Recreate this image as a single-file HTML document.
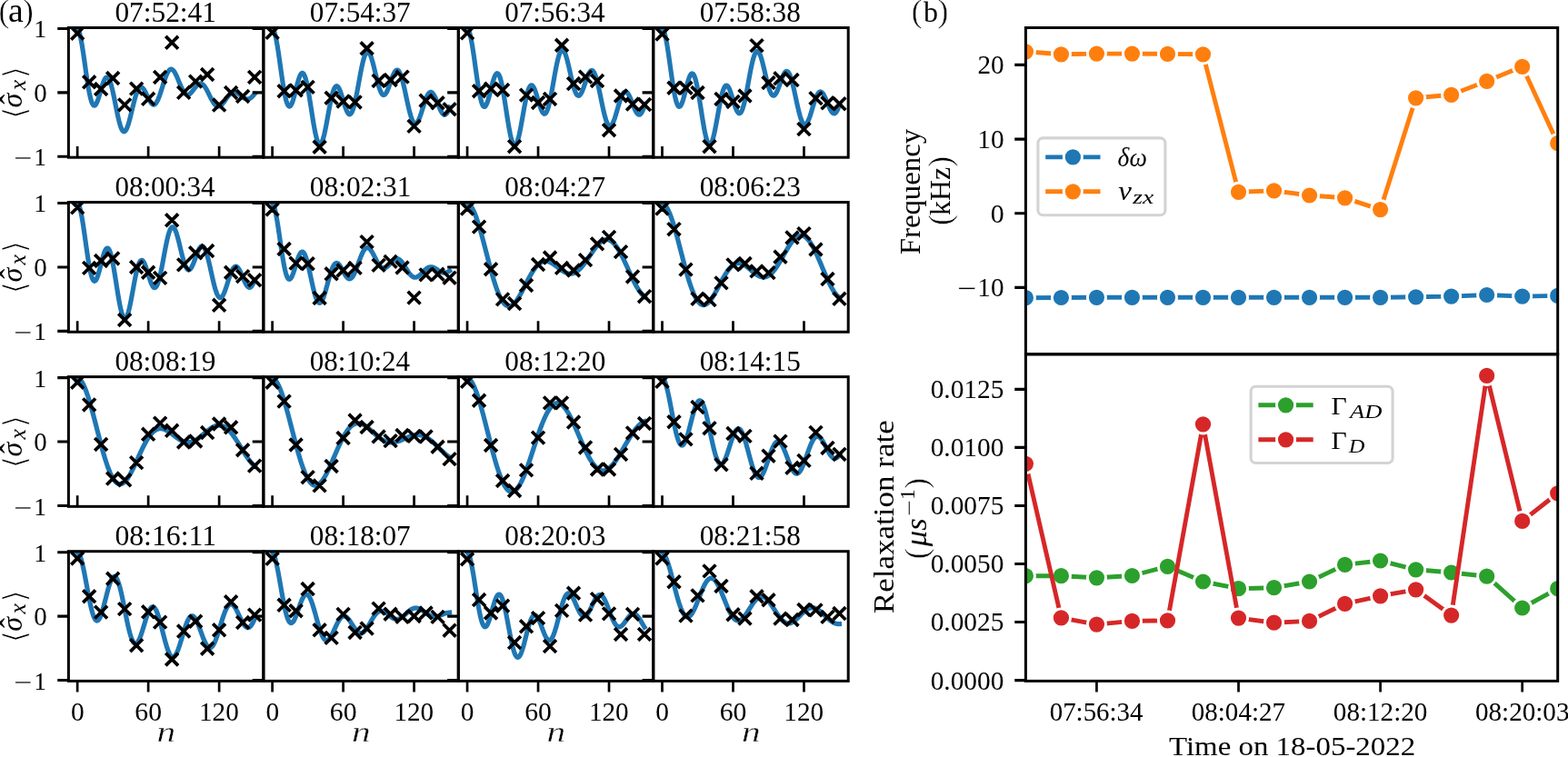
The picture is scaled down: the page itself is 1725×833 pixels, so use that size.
<!DOCTYPE html>
<html lang="en"><head><meta charset="utf-8"><title>Figure</title><style>html,body{margin:0;padding:0;background:#fff}svg{display:block}</style></head><body>
<svg width="1725" height="833" viewBox="0 0 1725 833" font-family="'Liberation Serif', serif" fill="#000">
<rect width="1725" height="833" fill="#fff"/>
<defs>
<clipPath id="c00"><rect x="75.4" y="30.5" width="214.45" height="142.7"/></clipPath>
<clipPath id="c01"><rect x="289.85" y="30.5" width="214.45" height="142.7"/></clipPath>
<clipPath id="c02"><rect x="504.3" y="30.5" width="214.45" height="142.7"/></clipPath>
<clipPath id="c03"><rect x="718.75" y="30.5" width="214.45" height="142.7"/></clipPath>
<clipPath id="c10"><rect x="75.4" y="222.57" width="214.45" height="142.7"/></clipPath>
<clipPath id="c11"><rect x="289.85" y="222.57" width="214.45" height="142.7"/></clipPath>
<clipPath id="c12"><rect x="504.3" y="222.57" width="214.45" height="142.7"/></clipPath>
<clipPath id="c13"><rect x="718.75" y="222.57" width="214.45" height="142.7"/></clipPath>
<clipPath id="c20"><rect x="75.4" y="414.64" width="214.45" height="142.7"/></clipPath>
<clipPath id="c21"><rect x="289.85" y="414.64" width="214.45" height="142.7"/></clipPath>
<clipPath id="c22"><rect x="504.3" y="414.64" width="214.45" height="142.7"/></clipPath>
<clipPath id="c23"><rect x="718.75" y="414.64" width="214.45" height="142.7"/></clipPath>
<clipPath id="c30"><rect x="75.4" y="606.71" width="214.45" height="142.7"/></clipPath>
<clipPath id="c31"><rect x="289.85" y="606.71" width="214.45" height="142.7"/></clipPath>
<clipPath id="c32"><rect x="504.3" y="606.71" width="214.45" height="142.7"/></clipPath>
<clipPath id="c33"><rect x="718.75" y="606.71" width="214.45" height="142.7"/></clipPath>
<clipPath id="ct"><rect x="1128.4" y="30.5" width="585.3" height="359.3"/></clipPath>
<clipPath id="cb"><rect x="1128.4" y="389.8" width="585.3" height="359.6"/></clipPath>
</defs>
<g clip-path="url(#c00)">
<path d="M85.15 31.5L85.97 32.47L86.78 34.26L87.6 36.83L88.41 40.13L89.23 44.07L90.04 48.58L90.86 53.56L91.68 58.9L92.49 64.49L93.31 70.24L94.12 76.01L94.94 81.72L95.75 87.24L96.57 92.48L97.39 97.35L98.2 101.77L99.02 105.68L99.83 109.01L100.65 111.73L101.46 113.81L102.28 115.24L103.1 116.02L103.91 116.18L104.73 115.73L105.54 114.74L106.36 113.26L107.17 111.34L107.99 109.08L108.81 106.55L109.62 103.83L110.44 101.02L111.25 98.21L112.07 95.48L112.88 92.92L113.7 90.61L114.52 88.62L115.33 87.02L116.15 85.85L116.96 85.16L117.78 84.99L118.59 85.34L119.41 86.23L120.23 87.64L121.04 89.57L121.86 91.97L122.67 94.8L123.49 98.02L124.3 101.57L125.12 105.36L125.94 109.35L126.75 113.43L127.57 117.55L128.38 121.61L129.2 125.54L130.01 129.27L130.83 132.72L131.65 135.83L132.46 138.55L133.28 140.82L134.09 142.61L134.91 143.89L135.72 144.64L136.54 144.86L137.36 144.55L138.17 143.72L138.99 142.4L139.8 140.63L140.62 138.45L141.43 135.91L142.25 133.06L143.07 129.98L143.88 126.71L144.7 123.35L145.51 119.94L146.33 116.56L147.14 113.28L147.96 110.15L148.78 107.23L149.59 104.58L150.41 102.23L151.22 100.22L152.04 98.57L152.85 97.31L153.67 96.45L154.49 95.97L155.3 95.88L156.12 96.15L156.93 96.76L157.75 97.67L158.56 98.84L159.38 100.23L160.2 101.79L161.01 103.46L161.83 105.2L162.64 106.94L163.46 108.63L164.27 110.21L165.09 111.65L165.91 112.89L166.72 113.9L167.54 114.63L168.35 115.07L169.17 115.19L169.98 114.98L170.8 114.43L171.62 113.55L172.43 112.36L173.25 110.86L174.06 109.08L174.88 107.06L175.69 104.83L176.51 102.42L177.33 99.9L178.14 97.29L178.96 94.66L179.77 92.05L180.59 89.51L181.4 87.08L182.22 84.82L183.04 82.75L183.85 80.92L184.67 79.36L185.48 78.09L186.3 77.13L187.11 76.49L187.93 76.18L188.75 76.2L189.56 76.54L190.38 77.18L191.19 78.11L192.01 79.3L192.82 80.71L193.64 82.32L194.46 84.09L195.27 85.98L196.09 87.94L196.9 89.93L197.72 91.92L198.53 93.85L199.35 95.71L200.17 97.44L200.98 99.02L201.8 100.42L202.61 101.61L203.43 102.59L204.24 103.34L205.06 103.85L205.88 104.12L206.69 104.16L207.51 103.98L208.32 103.59L209.14 103.01L209.95 102.27L210.77 101.4L211.59 100.43L212.4 99.38L213.22 98.29L214.03 97.2L214.85 96.13L215.66 95.13L216.48 94.22L217.3 93.43L218.11 92.79L218.93 92.31L219.74 92.01L220.56 91.92L221.37 92.03L222.19 92.34L223.01 92.87L223.82 93.6L224.64 94.52L225.45 95.62L226.27 96.87L227.08 98.27L227.9 99.77L228.72 101.36L229.53 103L230.35 104.67L231.16 106.34L231.98 107.97L232.79 109.53L233.61 111.01L234.43 112.36L235.24 113.58L236.06 114.63L236.87 115.51L237.69 116.21L238.5 116.7L239.32 116.99L240.14 117.09L240.95 116.98L241.77 116.69L242.58 116.22L243.4 115.58L244.21 114.81L245.03 113.9L245.85 112.9L246.66 111.82L247.48 110.68L248.29 109.52L249.11 108.36L249.92 107.23L250.74 106.14L251.56 105.12L252.37 104.19L253.19 103.36L254 102.66L254.82 102.09L255.63 101.65L256.45 101.36L257.27 101.22L258.08 101.21L258.9 101.34L259.71 101.6L260.53 101.97L261.34 102.45L262.16 103L262.98 103.62L263.79 104.29L264.61 104.98L265.42 105.68L266.24 106.36L267.05 107L267.87 107.59L268.69 108.1L269.5 108.52L270.32 108.84L271.13 109.05L271.95 109.14L272.76 109.09L273.58 108.92L274.4 108.61L275.21 108.18L276.03 107.62L276.84 106.95L277.66 106.18L278.47 105.32L279.29 104.39L280.11 103.4" fill="none" stroke="#1f77b4" stroke-width="5.2" stroke-linejoin="round" stroke-linecap="square"/>
<path d="M78.25 29.81l13.8 13.8m0 -13.8l-13.8 13.8M91.25 83.43l13.8 13.8m0 -13.8l-13.8 13.8M104.24 91.09l13.8 13.8m0 -13.8l-13.8 13.8M117.24 79.08l13.8 13.8m0 -13.8l-13.8 13.8M130.24 108.51l13.8 13.8m0 -13.8l-13.8 13.8M143.23 90.75l13.8 13.8m0 -13.8l-13.8 13.8M156.23 101.89l13.8 13.8m0 -13.8l-13.8 13.8M169.23 78.04l13.8 13.8m0 -13.8l-13.8 13.8M182.23 39.9l13.8 13.8m0 -13.8l-13.8 13.8M195.22 94.93l13.8 13.8m0 -13.8l-13.8 13.8M208.22 82.74l13.8 13.8m0 -13.8l-13.8 13.8M221.22 75.08l13.8 13.8m0 -13.8l-13.8 13.8M234.21 108.68l13.8 13.8m0 -13.8l-13.8 13.8M247.21 95.1l13.8 13.8m0 -13.8l-13.8 13.8M260.21 99.1l13.8 13.8m0 -13.8l-13.8 13.8M273.21 78.04l13.8 13.8m0 -13.8l-13.8 13.8" stroke="#000" stroke-width="3.7" fill="none"/>
</g>
<g clip-path="url(#c01)">
<path d="M299.6 31.5L300.42 32.13L301.23 33.58L302.05 35.82L302.86 38.8L303.68 42.45L304.49 46.71L305.31 51.48L306.13 56.67L306.94 62.18L307.76 67.91L308.57 73.73L309.39 79.53L310.2 85.22L311.02 90.68L311.84 95.82L312.65 100.55L313.47 104.79L314.28 108.47L315.1 111.53L315.91 113.95L316.73 115.69L317.55 116.74L318.36 117.12L319.18 116.84L319.99 115.94L320.81 114.47L321.62 112.49L322.44 110.08L323.26 107.32L324.07 104.3L324.89 101.11L325.7 97.85L326.52 94.63L327.33 91.53L328.15 88.66L328.97 86.1L329.78 83.93L330.6 82.23L331.41 81.05L332.23 80.46L333.04 80.47L333.86 81.12L334.68 82.41L335.49 84.34L336.31 86.88L337.12 90L337.94 93.65L338.75 97.77L339.57 102.3L340.39 107.14L341.2 112.22L342.02 117.44L342.83 122.71L343.65 127.93L344.46 133L345.28 137.83L346.1 142.33L346.91 146.42L347.73 150.02L348.54 153.07L349.36 155.51L350.17 157.32L350.99 158.45L351.81 158.89L352.62 158.65L353.44 157.74L354.25 156.18L355.07 154.02L355.88 151.29L356.7 148.08L357.52 144.44L358.33 140.45L359.15 136.21L359.96 131.79L360.78 127.29L361.59 122.8L362.41 118.41L363.23 114.19L364.04 110.24L364.86 106.63L365.67 103.41L366.49 100.65L367.3 98.38L368.12 96.63L368.94 95.44L369.75 94.79L370.57 94.69L371.38 95.11L372.2 96.03L373.01 97.4L373.83 99.18L374.65 101.29L375.46 103.67L376.28 106.25L377.09 108.95L377.91 111.69L378.72 114.38L379.54 116.95L380.36 119.31L381.17 121.4L381.99 123.15L382.8 124.5L383.62 125.4L384.43 125.82L385.25 125.71L386.07 125.07L386.88 123.89L387.7 122.18L388.51 119.95L389.33 117.24L390.14 114.08L390.96 110.53L391.78 106.64L392.59 102.48L393.41 98.12L394.22 93.65L395.04 89.13L395.85 84.65L396.67 80.28L397.49 76.12L398.3 72.22L399.12 68.66L399.93 65.5L400.75 62.78L401.56 60.56L402.38 58.87L403.2 57.73L404.01 57.15L404.83 57.12L405.64 57.65L406.46 58.71L407.27 60.26L408.09 62.26L408.91 64.67L409.72 67.42L410.54 70.45L411.35 73.69L412.17 77.07L412.98 80.52L413.8 83.96L414.62 87.32L415.43 90.52L416.25 93.51L417.06 96.23L417.88 98.63L418.69 100.65L419.51 102.27L420.33 103.47L421.14 104.22L421.96 104.53L422.77 104.4L423.59 103.84L424.4 102.89L425.22 101.58L426.04 99.95L426.85 98.05L427.67 95.95L428.48 93.69L429.3 91.36L430.11 89.01L430.93 86.7L431.75 84.52L432.56 82.52L433.38 80.75L434.19 79.28L435.01 78.16L435.82 77.41L436.64 77.08L437.46 77.19L438.27 77.74L439.09 78.75L439.9 80.21L440.72 82.11L441.53 84.41L442.35 87.08L443.17 90.08L443.98 93.37L444.8 96.88L445.61 100.56L446.43 104.35L447.24 108.17L448.06 111.97L448.88 115.68L449.69 119.22L450.51 122.55L451.32 125.61L452.14 128.34L452.95 130.71L453.77 132.68L454.59 134.21L455.4 135.3L456.22 135.94L457.03 136.12L457.85 135.85L458.66 135.15L459.48 134.05L460.3 132.58L461.11 130.79L461.93 128.72L462.74 126.43L463.56 123.96L464.37 121.39L465.19 118.77L466.01 116.15L466.82 113.61L467.64 111.19L468.45 108.96L469.27 106.94L470.08 105.2L470.9 103.76L471.72 102.64L472.53 101.88L473.35 101.47L474.16 101.43L474.98 101.75L475.79 102.4L476.61 103.37L477.43 104.64L478.24 106.15L479.06 107.88L479.87 109.76L480.69 111.76L481.5 113.82L482.32 115.88L483.14 117.88L483.95 119.78L484.77 121.52L485.58 123.05L486.4 124.33L487.21 125.31L488.03 125.98L488.85 126.29L489.66 126.23L490.48 125.79L491.29 124.97L492.11 123.78L492.92 122.22L493.74 120.32L494.56 118.1" fill="none" stroke="#1f77b4" stroke-width="5.2" stroke-linejoin="round" stroke-linecap="square"/>
<path d="M292.7 28.94l13.8 13.8m0 -13.8l-13.8 13.8M305.7 93.36l13.8 13.8m0 -13.8l-13.8 13.8M318.69 92.49l13.8 13.8m0 -13.8l-13.8 13.8M331.69 89.01l13.8 13.8m0 -13.8l-13.8 13.8M344.69 154.82l13.8 13.8m0 -13.8l-13.8 13.8M357.69 100.85l13.8 13.8m0 -13.8l-13.8 13.8M370.68 104.68l13.8 13.8m0 -13.8l-13.8 13.8M383.68 105.55l13.8 13.8m0 -13.8l-13.8 13.8M396.68 46.35l13.8 13.8m0 -13.8l-13.8 13.8M409.67 82.04l13.8 13.8m0 -13.8l-13.8 13.8M422.67 81.17l13.8 13.8m0 -13.8l-13.8 13.8M435.67 77.69l13.8 13.8m0 -13.8l-13.8 13.8M448.66 132.01l13.8 13.8m0 -13.8l-13.8 13.8M461.66 103.81l13.8 13.8m0 -13.8l-13.8 13.8M474.66 106.42l13.8 13.8m0 -13.8l-13.8 13.8M487.66 113.38l13.8 13.8m0 -13.8l-13.8 13.8" stroke="#000" stroke-width="3.7" fill="none"/>
</g>
<g clip-path="url(#c02)">
<path d="M514.05 31.5L514.87 32.12L515.68 33.56L516.5 35.79L517.31 38.77L518.13 42.43L518.94 46.7L519.76 51.49L520.58 56.7L521.39 62.24L522.21 67.99L523.02 73.84L523.84 79.68L524.65 85.4L525.47 90.9L526.29 96.07L527.1 100.83L527.92 105.09L528.73 108.79L529.55 111.88L530.36 114.3L531.18 116.05L532 117.11L532.81 117.48L533.63 117.19L534.44 116.28L535.26 114.79L536.07 112.79L536.89 110.36L537.71 107.58L538.52 104.53L539.34 101.32L540.15 98.04L540.97 94.8L541.78 91.7L542.6 88.82L543.42 86.26L544.23 84.1L545.05 82.42L545.86 81.28L546.68 80.72L547.49 80.78L548.31 81.48L549.13 82.84L549.94 84.84L550.76 87.46L551.57 90.66L552.39 94.4L553.2 98.61L554.02 103.23L554.84 108.16L555.65 113.32L556.47 118.62L557.28 123.96L558.1 129.24L558.91 134.36L559.73 139.22L560.55 143.75L561.36 147.84L562.18 151.43L562.99 154.45L563.81 156.86L564.62 158.6L565.44 159.66L566.26 160.01L567.07 159.66L567.89 158.63L568.7 156.94L569.52 154.64L570.33 151.77L571.15 148.41L571.97 144.62L572.78 140.48L573.6 136.09L574.41 131.53L575.23 126.9L576.04 122.28L576.86 117.78L577.68 113.47L578.49 109.44L579.31 105.76L580.12 102.5L580.94 99.7L581.75 97.42L582.57 95.68L583.39 94.51L584.2 93.89L585.02 93.84L585.83 94.32L586.65 95.31L587.46 96.75L588.28 98.6L589.1 100.79L589.91 103.24L590.73 105.89L591.54 108.65L592.36 111.43L593.17 114.16L593.99 116.75L594.81 119.11L595.62 121.19L596.44 122.91L597.25 124.21L598.07 125.04L598.88 125.36L599.7 125.14L600.52 124.38L601.33 123.06L602.15 121.2L602.96 118.81L603.78 115.93L604.59 112.6L605.41 108.87L606.23 104.81L607.04 100.49L607.86 95.99L608.67 91.37L609.49 86.73L610.3 82.15L611.12 77.71L611.94 73.49L612.75 69.56L613.57 66L614.38 62.86L615.2 60.2L616.01 58.06L616.83 56.48L617.65 55.47L618.46 55.04L619.28 55.2L620.09 55.92L620.91 57.18L621.72 58.95L622.54 61.18L623.36 63.82L624.17 66.8L624.99 70.06L625.8 73.52L626.62 77.11L627.43 80.75L628.25 84.36L629.07 87.87L629.88 91.21L630.7 94.3L631.51 97.1L632.33 99.55L633.14 101.61L633.96 103.24L634.78 104.42L635.59 105.13L636.41 105.38L637.22 105.18L638.04 104.53L638.85 103.49L639.67 102.07L640.49 100.34L641.3 98.35L642.12 96.15L642.93 93.81L643.75 91.4L644.56 88.99L645.38 86.65L646.2 84.46L647.01 82.46L647.83 80.73L648.64 79.33L649.46 78.29L650.27 77.66L651.09 77.46L651.91 77.73L652.72 78.47L653.54 79.69L654.35 81.36L655.17 83.48L655.98 86.02L656.8 88.93L657.62 92.17L658.43 95.69L659.25 99.42L660.06 103.31L660.88 107.29L661.69 111.27L662.51 115.21L663.33 119.02L664.14 122.65L664.96 126.02L665.77 129.09L666.59 131.8L667.4 134.11L668.22 135.98L669.04 137.39L669.85 138.33L670.67 138.78L671.48 138.75L672.3 138.25L673.11 137.31L673.93 135.95L674.75 134.22L675.56 132.16L676.38 129.82L677.19 127.26L678.01 124.55L678.82 121.74L679.64 118.9L680.46 116.1L681.27 113.39L682.09 110.83L682.9 108.48L683.72 106.38L684.53 104.58L685.35 103.12L686.17 102.01L686.98 101.27L687.8 100.92L688.61 100.96L689.43 101.36L690.24 102.12L691.06 103.21L691.88 104.59L692.69 106.22L693.51 108.06L694.32 110.05L695.14 112.14L695.95 114.27L696.77 116.38L697.59 118.42L698.4 120.32L699.22 122.03L700.03 123.5L700.85 124.69L701.66 125.56L702.48 126.07L703.3 126.2L704.11 125.94L704.93 125.27L705.74 124.21L706.56 122.74L707.37 120.91L708.19 118.72L709 116.22" fill="none" stroke="#1f77b4" stroke-width="5.2" stroke-linejoin="round" stroke-linecap="square"/>
<path d="M507.15 29.46l13.8 13.8m0 -13.8l-13.8 13.8M520.15 93.36l13.8 13.8m0 -13.8l-13.8 13.8M533.14 90.75l13.8 13.8m0 -13.8l-13.8 13.8M546.14 92.14l13.8 13.8m0 -13.8l-13.8 13.8M559.14 154.3l13.8 13.8m0 -13.8l-13.8 13.8M572.13 97.71l13.8 13.8m0 -13.8l-13.8 13.8M585.13 106.07l13.8 13.8m0 -13.8l-13.8 13.8M598.13 102.06l13.8 13.8m0 -13.8l-13.8 13.8M611.13 42.86l13.8 13.8m0 -13.8l-13.8 13.8M624.12 85.17l13.8 13.8m0 -13.8l-13.8 13.8M637.12 77.69l13.8 13.8m0 -13.8l-13.8 13.8M650.12 82.04l13.8 13.8m0 -13.8l-13.8 13.8M663.11 136.36l13.8 13.8m0 -13.8l-13.8 13.8M676.11 98.58l13.8 13.8m0 -13.8l-13.8 13.8M689.11 107.64l13.8 13.8m0 -13.8l-13.8 13.8M702.11 108.16l13.8 13.8m0 -13.8l-13.8 13.8" stroke="#000" stroke-width="3.7" fill="none"/>
</g>
<g clip-path="url(#c03)">
<path d="M728.5 31.5L729.32 32.13L730.13 33.59L730.95 35.84L731.76 38.83L732.58 42.5L733.39 46.78L734.21 51.57L735.03 56.79L735.84 62.32L736.66 68.07L737.47 73.91L738.29 79.75L739.1 85.45L739.92 90.94L740.74 96.09L741.55 100.83L742.37 105.08L743.18 108.76L744 111.83L744.81 114.24L745.63 115.98L746.45 117.03L747.26 117.39L748.08 117.1L748.89 116.19L749.71 114.71L750.52 112.73L751.34 110.31L752.16 107.54L752.97 104.51L753.79 101.32L754.6 98.07L755.42 94.86L756.23 91.78L757.05 88.93L757.87 86.39L758.68 84.26L759.5 82.6L760.31 81.47L761.13 80.92L761.94 80.98L762.76 81.69L763.58 83.03L764.39 85.02L765.21 87.61L766.02 90.78L766.84 94.48L767.65 98.65L768.47 103.21L769.29 108.09L770.1 113.19L770.92 118.42L771.73 123.69L772.55 128.89L773.36 133.94L774.18 138.73L775 143.19L775.81 147.21L776.63 150.74L777.44 153.71L778.26 156.07L779.07 157.78L779.89 158.8L780.71 159.14L781.52 158.78L782.34 157.75L783.15 156.08L783.97 153.8L784.78 150.96L785.6 147.64L786.42 143.9L787.23 139.83L788.05 135.5L788.86 131.02L789.68 126.46L790.49 121.92L791.31 117.49L792.13 113.26L792.94 109.3L793.76 105.69L794.57 102.49L795.39 99.75L796.2 97.51L797.02 95.81L797.84 94.65L798.65 94.06L799.47 94L800.28 94.48L801.1 95.44L801.91 96.86L802.73 98.67L803.55 100.81L804.36 103.21L805.18 105.8L805.99 108.5L806.81 111.22L807.62 113.88L808.44 116.4L809.26 118.72L810.07 120.74L810.89 122.41L811.7 123.67L812.52 124.48L813.33 124.79L814.15 124.57L814.97 123.82L815.78 122.53L816.6 120.71L817.41 118.38L818.23 115.56L819.04 112.32L819.86 108.69L820.68 104.74L821.49 100.53L822.31 96.15L823.12 91.66L823.94 87.15L824.75 82.7L825.57 78.38L826.39 74.29L827.2 70.48L828.02 67.02L828.83 63.98L829.65 61.41L830.46 59.34L831.28 57.81L832.1 56.84L832.91 56.44L833.73 56.6L834.54 57.31L835.36 58.55L836.17 60.28L836.99 62.45L837.81 65.01L838.62 67.91L839.44 71.07L840.25 74.43L841.07 77.91L841.88 81.43L842.7 84.93L843.52 88.33L844.33 91.56L845.15 94.56L845.96 97.26L846.78 99.63L847.59 101.62L848.41 103.19L849.23 104.33L850.04 105.02L850.86 105.26L851.67 105.06L852.49 104.44L853.3 103.43L854.12 102.07L854.94 100.4L855.75 98.47L856.57 96.36L857.38 94.1L858.2 91.79L859.01 89.47L859.83 87.22L860.65 85.11L861.46 83.2L862.28 81.54L863.09 80.19L863.91 79.2L864.72 78.6L865.54 78.42L866.36 78.68L867.17 79.4L867.99 80.57L868.8 82.18L869.62 84.22L870.43 86.66L871.25 89.46L872.07 92.57L872.88 95.94L873.7 99.53L874.51 103.25L875.33 107.06L876.14 110.88L876.96 114.65L877.78 118.3L878.59 121.76L879.41 124.99L880.22 127.92L881.04 130.51L881.85 132.71L882.67 134.49L883.49 135.83L884.3 136.72L885.12 137.14L885.93 137.1L886.75 136.62L887.56 135.71L888.38 134.4L889.2 132.74L890.01 130.77L890.83 128.53L891.64 126.09L892.46 123.5L893.27 120.82L894.09 118.11L894.91 115.43L895.72 112.84L896.54 110.4L897.35 108.16L898.17 106.17L898.98 104.46L899.8 103.06L900.62 102L901.43 101.3L902.25 100.97L903.06 101L903.88 101.39L904.69 102.11L905.51 103.14L906.33 104.45L907.14 106L907.96 107.75L908.77 109.64L909.59 111.62L910.4 113.63L911.22 115.63L912.04 117.56L912.85 119.36L913.67 120.98L914.48 122.37L915.3 123.49L916.11 124.3L916.93 124.78L917.75 124.9L918.56 124.65L919.38 124.01L920.19 123L921.01 121.61L921.82 119.87L922.64 117.8L923.45 115.43" fill="none" stroke="#1f77b4" stroke-width="5.2" stroke-linejoin="round" stroke-linecap="square"/>
<path d="M721.6 30.68l13.8 13.8m0 -13.8l-13.8 13.8M734.6 89.88l13.8 13.8m0 -13.8l-13.8 13.8M747.59 89.88l13.8 13.8m0 -13.8l-13.8 13.8M760.59 95.1l13.8 13.8m0 -13.8l-13.8 13.8M773.59 154.3l13.8 13.8m0 -13.8l-13.8 13.8M786.58 102.06l13.8 13.8m0 -13.8l-13.8 13.8M799.58 105.02l13.8 13.8m0 -13.8l-13.8 13.8M812.58 98.58l13.8 13.8m0 -13.8l-13.8 13.8M825.58 43.21l13.8 13.8m0 -13.8l-13.8 13.8M838.57 84.13l13.8 13.8m0 -13.8l-13.8 13.8M851.57 79.43l13.8 13.8m0 -13.8l-13.8 13.8M864.57 81.17l13.8 13.8m0 -13.8l-13.8 13.8M877.56 135.15l13.8 13.8m0 -13.8l-13.8 13.8M890.56 101.19l13.8 13.8m0 -13.8l-13.8 13.8M903.56 106.42l13.8 13.8m0 -13.8l-13.8 13.8M916.55 107.29l13.8 13.8m0 -13.8l-13.8 13.8" stroke="#000" stroke-width="3.7" fill="none"/>
</g>
<g clip-path="url(#c10)">
<path d="M85.15 223.57L85.97 224.22L86.78 225.68L87.6 227.94L88.41 230.93L89.23 234.6L90.04 238.87L90.86 243.66L91.68 248.87L92.49 254.39L93.31 260.12L94.12 265.95L94.94 271.76L95.75 277.46L96.57 282.92L97.39 288.06L98.2 292.79L99.02 297.02L99.83 300.69L100.65 303.75L101.46 306.16L102.28 307.9L103.1 308.95L103.91 309.32L104.73 309.04L105.54 308.14L106.36 306.68L107.17 304.71L107.99 302.31L108.81 299.57L109.62 296.56L110.44 293.4L111.25 290.17L112.07 286.97L112.88 283.9L113.7 281.06L114.52 278.53L115.33 276.4L116.15 274.73L116.96 273.59L117.78 273.02L118.59 273.06L119.41 273.73L120.23 275.04L121.04 276.98L121.86 279.52L122.67 282.64L123.49 286.28L124.3 290.38L125.12 294.88L125.94 299.69L126.75 304.73L127.57 309.9L128.38 315.11L129.2 320.26L130.01 325.27L130.83 330.02L131.65 334.44L132.46 338.45L133.28 341.97L134.09 344.94L134.91 347.31L135.72 349.03L136.54 350.09L137.36 350.47L138.17 350.16L138.99 349.2L139.8 347.59L140.62 345.38L141.43 342.63L142.25 339.39L143.07 335.74L143.88 331.75L144.7 327.51L145.51 323.1L146.33 318.62L147.14 314.16L147.96 309.79L148.78 305.62L149.59 301.7L150.41 298.13L151.22 294.95L152.04 292.22L152.85 289.98L153.67 288.27L154.49 287.1L155.3 286.47L156.12 286.38L156.93 286.81L157.75 287.72L158.56 289.08L159.38 290.83L160.2 292.91L161.01 295.25L161.83 297.78L162.64 300.42L163.46 303.1L164.27 305.72L165.09 308.22L165.91 310.52L166.72 312.54L167.54 314.22L168.35 315.5L169.17 316.34L169.98 316.7L170.8 316.55L171.62 315.87L172.43 314.66L173.25 312.94L174.06 310.71L174.88 308.01L175.69 304.88L176.51 301.37L177.33 297.53L178.14 293.45L178.96 289.17L179.77 284.79L180.59 280.38L181.4 276.01L182.22 271.77L183.04 267.74L183.85 263.97L184.67 260.55L185.48 257.52L186.3 254.94L187.11 252.85L187.93 251.28L188.75 250.25L189.56 249.77L190.38 249.84L191.19 250.46L192.01 251.58L192.82 253.19L193.64 255.24L194.46 257.67L195.27 260.44L196.09 263.47L196.9 266.7L197.72 270.06L198.53 273.48L199.35 276.88L200.17 280.19L200.98 283.35L201.8 286.29L202.61 288.95L203.43 291.3L204.24 293.27L205.06 294.85L205.88 296.01L206.69 296.74L207.51 297.03L208.32 296.89L209.14 296.34L209.95 295.41L210.77 294.13L211.59 292.54L212.4 290.7L213.22 288.67L214.03 286.49L214.85 284.24L215.66 281.99L216.48 279.79L217.3 277.71L218.11 275.81L218.93 274.15L219.74 272.78L220.56 271.75L221.37 271.09L222.19 270.84L223.01 271.02L223.82 271.63L224.64 272.68L225.45 274.16L226.27 276.06L227.08 278.34L227.9 280.98L228.72 283.94L229.53 287.16L230.35 290.59L231.16 294.17L231.98 297.84L232.79 301.53L233.61 305.19L234.43 308.74L235.24 312.13L236.06 315.3L236.87 318.19L237.69 320.77L238.5 322.97L239.32 324.79L240.14 326.18L240.95 327.13L241.77 327.64L242.58 327.71L243.4 327.34L244.21 326.56L245.03 325.4L245.85 323.88L246.66 322.06L247.48 319.97L248.29 317.68L249.11 315.22L249.92 312.68L250.74 310.09L251.56 307.52L252.37 305.03L253.19 302.66L254 300.48L254.82 298.53L255.63 296.83L256.45 295.44L257.27 294.37L258.08 293.63L258.9 293.25L259.71 293.21L260.53 293.52L261.34 294.16L262.16 295.09L262.98 296.31L263.79 297.76L264.61 299.4L265.42 301.2L266.24 303.09L267.05 305.03L267.87 306.97L268.69 308.85L269.5 310.61L270.32 312.22L271.13 313.62L271.95 314.76L272.76 315.63L273.58 316.18L274.4 316.39L275.21 316.24L276.03 315.73L276.84 314.86L277.66 313.63L278.47 312.05L279.29 310.16L280.11 307.97" fill="none" stroke="#1f77b4" stroke-width="5.2" stroke-linejoin="round" stroke-linecap="square"/>
<path d="M78.25 221.46l13.8 13.8m0 -13.8l-13.8 13.8M91.25 287.97l13.8 13.8m0 -13.8l-13.8 13.8M104.24 280.13l13.8 13.8m0 -13.8l-13.8 13.8M117.24 277.52l13.8 13.8m0 -13.8l-13.8 13.8M130.24 345.08l13.8 13.8m0 -13.8l-13.8 13.8M143.23 287.1l13.8 13.8m0 -13.8l-13.8 13.8M156.23 292.85l13.8 13.8m0 -13.8l-13.8 13.8M169.23 298.94l13.8 13.8m0 -13.8l-13.8 13.8M182.23 235.39l13.8 13.8m0 -13.8l-13.8 13.8M195.22 284.49l13.8 13.8m0 -13.8l-13.8 13.8M208.22 271.43l13.8 13.8m0 -13.8l-13.8 13.8M221.22 269.17l13.8 13.8m0 -13.8l-13.8 13.8M234.21 328.89l13.8 13.8m0 -13.8l-13.8 13.8M247.21 292.85l13.8 13.8m0 -13.8l-13.8 13.8M260.21 297.2l13.8 13.8m0 -13.8l-13.8 13.8M273.21 301.38l13.8 13.8m0 -13.8l-13.8 13.8" stroke="#000" stroke-width="3.7" fill="none"/>
</g>
<g clip-path="url(#c11)">
<path d="M299.6 223.57L300.42 224.6L301.23 226.44L302.05 229.03L302.86 232.31L303.68 236.21L304.49 240.65L305.31 245.54L306.13 250.77L306.94 256.25L307.76 261.87L308.57 267.51L309.39 273.09L310.2 278.48L311.02 283.61L311.84 288.39L312.65 292.74L313.47 296.59L314.28 299.9L315.1 302.63L315.91 304.74L316.73 306.23L317.55 307.1L318.36 307.37L319.18 307.07L319.99 306.23L320.81 304.91L321.62 303.17L322.44 301.08L323.26 298.72L324.07 296.16L324.89 293.49L325.7 290.79L326.52 288.15L327.33 285.64L328.15 283.35L328.97 281.33L329.78 279.64L330.6 278.35L331.41 277.5L332.23 277.11L333.04 277.2L333.86 277.79L334.68 278.88L335.49 280.44L336.31 282.46L337.12 284.9L337.94 287.72L338.75 290.86L339.57 294.27L340.39 297.88L341.2 301.63L342.02 305.44L342.83 309.24L343.65 312.97L344.46 316.54L345.28 319.9L346.1 322.99L346.91 325.75L347.73 328.13L348.54 330.1L349.36 331.62L350.17 332.68L350.99 333.25L351.81 333.35L352.62 332.97L353.44 332.14L354.25 330.87L355.07 329.21L355.88 327.2L356.7 324.87L357.52 322.28L358.33 319.5L359.15 316.57L359.96 313.56L360.78 310.53L361.59 307.53L362.41 304.63L363.23 301.87L364.04 299.31L364.86 296.98L365.67 294.93L366.49 293.18L367.3 291.75L368.12 290.67L368.94 289.92L369.75 289.53L370.57 289.46L371.38 289.71L372.2 290.26L373.01 291.07L373.83 292.11L374.65 293.34L375.46 294.72L376.28 296.2L377.09 297.74L377.91 299.28L378.72 300.78L379.54 302.2L380.36 303.49L381.17 304.61L381.99 305.54L382.8 306.23L383.62 306.68L384.43 306.85L385.25 306.74L386.07 306.34L386.88 305.66L387.7 304.7L388.51 303.47L389.33 302L390.14 300.32L390.96 298.44L391.78 296.42L392.59 294.27L393.41 292.04L394.22 289.77L395.04 287.51L395.85 285.29L396.67 283.15L397.49 281.13L398.3 279.26L399.12 277.58L399.93 276.11L400.75 274.88L401.56 273.9L402.38 273.18L403.2 272.74L404.01 272.56L404.83 272.66L405.64 273.02L406.46 273.62L407.27 274.44L408.09 275.47L408.91 276.67L409.72 278.03L410.54 279.49L411.35 281.04L412.17 282.64L412.98 284.26L413.8 285.85L414.62 287.39L415.43 288.86L416.25 290.21L417.06 291.44L417.88 292.51L418.69 293.41L419.51 294.14L420.33 294.67L421.14 295.01L421.96 295.17L422.77 295.13L423.59 294.92L424.4 294.55L425.22 294.03L426.04 293.39L426.85 292.65L427.67 291.82L428.48 290.94L429.3 290.04L430.11 289.14L430.93 288.26L431.75 287.44L432.56 286.69L433.38 286.05L434.19 285.52L435.01 285.12L435.82 284.87L436.64 284.78L437.46 284.86L438.27 285.1L439.09 285.51L439.9 286.07L440.72 286.79L441.53 287.66L442.35 288.65L443.17 289.74L443.98 290.93L444.8 292.19L445.61 293.5L446.43 294.83L447.24 296.16L448.06 297.47L448.88 298.74L449.69 299.93L450.51 301.05L451.32 302.06L452.14 302.95L452.95 303.7L453.77 304.32L454.59 304.79L455.4 305.1L456.22 305.26L457.03 305.27L457.85 305.13L458.66 304.86L459.48 304.45L460.3 303.93L461.11 303.31L461.93 302.61L462.74 301.84L463.56 301.03L464.37 300.19L465.19 299.34L466.01 298.49L466.82 297.68L467.64 296.91L468.45 296.21L469.27 295.57L470.08 295.02L470.9 294.57L471.72 294.21L472.53 293.96L473.35 293.82L474.16 293.79L474.98 293.85L475.79 294.02L476.61 294.28L477.43 294.61L478.24 295.02L479.06 295.48L479.87 295.98L480.69 296.51L481.5 297.05L482.32 297.59L483.14 298.11L483.95 298.6L484.77 299.05L485.58 299.43L486.4 299.75L487.21 299.98L488.03 300.13L488.85 300.19L489.66 300.15L490.48 300.02L491.29 299.79L492.11 299.47L492.92 299.05L493.74 298.56L494.56 297.99" fill="none" stroke="#1f77b4" stroke-width="5.2" stroke-linejoin="round" stroke-linecap="square"/>
<path d="M292.7 223.55l13.8 13.8m0 -13.8l-13.8 13.8M305.7 267.08l13.8 13.8m0 -13.8l-13.8 13.8M318.69 282.75l13.8 13.8m0 -13.8l-13.8 13.8M331.69 283.27l13.8 13.8m0 -13.8l-13.8 13.8M344.69 321.05l13.8 13.8m0 -13.8l-13.8 13.8M357.69 294.41l13.8 13.8m0 -13.8l-13.8 13.8M370.68 290.58l13.8 13.8m0 -13.8l-13.8 13.8M383.68 287.97l13.8 13.8m0 -13.8l-13.8 13.8M396.68 259.24l13.8 13.8m0 -13.8l-13.8 13.8M409.67 285.01l13.8 13.8m0 -13.8l-13.8 13.8M422.67 281.01l13.8 13.8m0 -13.8l-13.8 13.8M435.67 287.62l13.8 13.8m0 -13.8l-13.8 13.8M448.66 320.7l13.8 13.8m0 -13.8l-13.8 13.8M461.66 295.46l13.8 13.8m0 -13.8l-13.8 13.8M474.66 294.93l13.8 13.8m0 -13.8l-13.8 13.8M487.66 298.77l13.8 13.8m0 -13.8l-13.8 13.8" stroke="#000" stroke-width="3.7" fill="none"/>
</g>
<g clip-path="url(#c12)">
<path d="M514.05 223.57L514.87 223.87L515.68 224.37L516.5 225.05L517.31 225.92L518.13 226.97L518.94 228.2L519.76 229.6L520.58 231.17L521.39 232.9L522.21 234.78L523.02 236.81L523.84 238.98L524.65 241.28L525.47 243.71L526.29 246.25L527.1 248.89L527.92 251.63L528.73 254.46L529.55 257.36L530.36 260.33L531.18 263.36L532 266.43L532.81 269.54L533.63 272.67L534.44 275.83L535.26 278.98L536.07 282.14L536.89 285.27L537.71 288.39L538.52 291.47L539.34 294.51L540.15 297.49L540.97 300.42L541.78 303.27L542.6 306.05L543.42 308.75L544.23 311.35L545.05 313.85L545.86 316.24L546.68 318.53L547.49 320.69L548.31 322.74L549.13 324.65L549.94 326.44L550.76 328.09L551.57 329.6L552.39 330.98L553.2 332.21L554.02 333.3L554.84 334.25L555.65 335.05L556.47 335.71L557.28 336.23L558.1 336.6L558.91 336.84L559.73 336.94L560.55 336.91L561.36 336.74L562.18 336.45L562.99 336.04L563.81 335.5L564.62 334.86L565.44 334.1L566.26 333.24L567.07 332.29L567.89 331.24L568.7 330.12L569.52 328.91L570.33 327.63L571.15 326.29L571.97 324.89L572.78 323.44L573.6 321.95L574.41 320.42L575.23 318.86L576.04 317.29L576.86 315.7L577.68 314.1L578.49 312.5L579.31 310.91L580.12 309.33L580.94 307.77L581.75 306.23L582.57 304.73L583.39 303.26L584.2 301.84L585.02 300.46L585.83 299.14L586.65 297.87L587.46 296.66L588.28 295.52L589.1 294.45L589.91 293.44L590.73 292.51L591.54 291.65L592.36 290.87L593.17 290.17L593.99 289.55L594.81 289L595.62 288.54L596.44 288.15L597.25 287.85L598.07 287.62L598.88 287.46L599.7 287.38L600.52 287.38L601.33 287.44L602.15 287.57L602.96 287.76L603.78 288.01L604.59 288.32L605.41 288.68L606.23 289.09L607.04 289.54L607.86 290.04L608.67 290.57L609.49 291.13L610.3 291.71L611.12 292.31L611.94 292.93L612.75 293.56L613.57 294.2L614.38 294.83L615.2 295.46L616.01 296.08L616.83 296.68L617.65 297.27L618.46 297.83L619.28 298.36L620.09 298.85L620.91 299.31L621.72 299.73L622.54 300.11L623.36 300.43L624.17 300.7L624.99 300.92L625.8 301.08L626.62 301.19L627.43 301.23L628.25 301.2L629.07 301.11L629.88 300.96L630.7 300.74L631.51 300.45L632.33 300.1L633.14 299.68L633.96 299.19L634.78 298.64L635.59 298.03L636.41 297.35L637.22 296.61L638.04 295.82L638.85 294.97L639.67 294.07L640.49 293.12L641.3 292.13L642.12 291.09L642.93 290.02L643.75 288.91L644.56 287.77L645.38 286.61L646.2 285.43L647.01 284.23L647.83 283.02L648.64 281.81L649.46 280.59L650.27 279.38L651.09 278.18L651.91 277L652.72 275.84L653.54 274.7L654.35 273.59L655.17 272.52L655.98 271.49L656.8 270.5L657.62 269.56L658.43 268.68L659.25 267.86L660.06 267.1L660.88 266.4L661.69 265.78L662.51 265.23L663.33 264.75L664.14 264.36L664.96 264.05L665.77 263.82L666.59 263.68L667.4 263.63L668.22 263.67L669.04 263.8L669.85 264.02L670.67 264.33L671.48 264.73L672.3 265.23L673.11 265.81L673.93 266.49L674.75 267.25L675.56 268.1L676.38 269.03L677.19 270.04L678.01 271.14L678.82 272.31L679.64 273.55L680.46 274.86L681.27 276.24L682.09 277.68L682.9 279.17L683.72 280.72L684.53 282.32L685.35 283.96L686.17 285.64L686.98 287.35L687.8 289.09L688.61 290.85L689.43 292.62L690.24 294.41L691.06 296.21L691.88 298L692.69 299.79L693.51 301.56L694.32 303.32L695.14 305.05L695.95 306.76L696.77 308.43L697.59 310.07L698.4 311.66L699.22 313.2L700.03 314.69L700.85 316.12L701.66 317.48L702.48 318.78L703.3 320.01L704.11 321.17L704.93 322.24L705.74 323.24L706.56 324.15L707.37 324.97L708.19 325.71L709 326.35" fill="none" stroke="#1f77b4" stroke-width="5.2" stroke-linejoin="round" stroke-linecap="square"/>
<path d="M507.15 222.68l13.8 13.8m0 -13.8l-13.8 13.8M520.15 242.7l13.8 13.8m0 -13.8l-13.8 13.8M533.14 289.36l13.8 13.8m0 -13.8l-13.8 13.8M546.14 322.44l13.8 13.8m0 -13.8l-13.8 13.8M559.14 327.15l13.8 13.8m0 -13.8l-13.8 13.8M572.13 307.12l13.8 13.8m0 -13.8l-13.8 13.8M585.13 284.14l13.8 13.8m0 -13.8l-13.8 13.8M598.13 276.65l13.8 13.8m0 -13.8l-13.8 13.8M611.13 287.97l13.8 13.8m0 -13.8l-13.8 13.8M624.12 290.58l13.8 13.8m0 -13.8l-13.8 13.8M637.12 279.26l13.8 13.8m0 -13.8l-13.8 13.8M650.12 261.5l13.8 13.8m0 -13.8l-13.8 13.8M663.11 254.02l13.8 13.8m0 -13.8l-13.8 13.8M676.11 270.21l13.8 13.8m0 -13.8l-13.8 13.8M689.11 297.55l13.8 13.8m0 -13.8l-13.8 13.8M702.11 319.31l13.8 13.8m0 -13.8l-13.8 13.8" stroke="#000" stroke-width="3.7" fill="none"/>
</g>
<g clip-path="url(#c13)">
<path d="M728.5 223.57L729.32 223.86L730.13 224.35L730.95 225.03L731.76 225.89L732.58 226.94L733.39 228.16L734.21 229.57L735.03 231.14L735.84 232.87L736.66 234.75L737.47 236.79L738.29 238.96L739.1 241.27L739.92 243.7L740.74 246.25L741.55 248.9L742.37 251.65L743.18 254.48L744 257.39L744.81 260.37L745.63 263.4L746.45 266.48L747.26 269.59L748.08 272.73L748.89 275.88L749.71 279.03L750.52 282.18L751.34 285.31L752.16 288.41L752.97 291.48L753.79 294.5L754.6 297.47L755.42 300.37L756.23 303.2L757.05 305.95L757.87 308.61L758.68 311.18L759.5 313.64L760.31 315.99L761.13 318.23L761.94 320.35L762.76 322.34L763.58 324.2L764.39 325.93L765.21 327.52L766.02 328.97L766.84 330.28L767.65 331.45L768.47 332.47L769.29 333.35L770.1 334.08L770.92 334.67L771.73 335.12L772.55 335.42L773.36 335.59L774.18 335.62L775 335.52L775.81 335.29L776.63 334.93L777.44 334.46L778.26 333.87L779.07 333.17L779.89 332.36L780.71 331.46L781.52 330.46L782.34 329.38L783.15 328.23L783.97 327L784.78 325.7L785.6 324.35L786.42 322.95L787.23 321.51L788.05 320.03L788.86 318.52L789.68 316.99L790.49 315.45L791.31 313.91L792.13 312.37L792.94 310.83L793.76 309.31L794.57 307.81L795.39 306.34L796.2 304.91L797.02 303.51L797.84 302.16L798.65 300.86L799.47 299.62L800.28 298.43L801.1 297.31L801.91 296.26L802.73 295.28L803.55 294.37L804.36 293.53L805.18 292.78L805.99 292.11L806.81 291.51L807.62 291L808.44 290.57L809.26 290.22L810.07 289.95L810.89 289.76L811.7 289.65L812.52 289.62L813.33 289.66L814.15 289.78L814.97 289.96L815.78 290.21L816.6 290.52L817.41 290.89L818.23 291.32L819.04 291.79L819.86 292.32L820.68 292.88L821.49 293.48L822.31 294.1L823.12 294.76L823.94 295.43L824.75 296.12L825.57 296.82L826.39 297.52L827.2 298.21L828.02 298.9L828.83 299.58L829.65 300.24L830.46 300.88L831.28 301.48L832.1 302.06L832.91 302.59L833.73 303.08L834.54 303.53L835.36 303.92L836.17 304.26L836.99 304.54L837.81 304.76L838.62 304.91L839.44 304.99L840.25 305.01L841.07 304.95L841.88 304.82L842.7 304.61L843.52 304.33L844.33 303.97L845.15 303.54L845.96 303.03L846.78 302.44L847.59 301.79L848.41 301.05L849.23 300.25L850.04 299.38L850.86 298.45L851.67 297.45L852.49 296.39L853.3 295.27L854.12 294.1L854.94 292.88L855.75 291.62L856.57 290.32L857.38 288.98L858.2 287.61L859.01 286.22L859.83 284.81L860.65 283.38L861.46 281.94L862.28 280.51L863.09 279.07L863.91 277.65L864.72 276.23L865.54 274.84L866.36 273.48L867.17 272.14L867.99 270.85L868.8 269.59L869.62 268.39L870.43 267.24L871.25 266.14L872.07 265.11L872.88 264.15L873.7 263.27L874.51 262.46L875.33 261.73L876.14 261.08L876.96 260.52L877.78 260.06L878.59 259.68L879.41 259.41L880.22 259.23L881.04 259.15L881.85 259.17L882.67 259.29L883.49 259.51L884.3 259.84L885.12 260.27L885.93 260.8L886.75 261.43L887.56 262.16L888.38 262.99L889.2 263.91L890.01 264.92L890.83 266.03L891.64 267.22L892.46 268.5L893.27 269.85L894.09 271.28L894.91 272.78L895.72 274.35L896.54 275.98L897.35 277.66L898.17 279.4L898.98 281.18L899.8 283L900.62 284.86L901.43 286.75L902.25 288.65L903.06 290.58L903.88 292.51L904.69 294.45L905.51 296.39L906.33 298.31L907.14 300.23L907.96 302.12L908.77 303.99L909.59 305.82L910.4 307.62L911.22 309.37L912.04 311.07L912.85 312.73L913.67 314.32L914.48 315.84L915.3 317.3L916.11 318.69L916.93 320L917.75 321.23L918.56 322.37L919.38 323.43L920.19 324.4L921.01 325.28L921.82 326.06L922.64 326.74L923.45 327.33" fill="none" stroke="#1f77b4" stroke-width="5.2" stroke-linejoin="round" stroke-linecap="square"/>
<path d="M721.6 222.68l13.8 13.8m0 -13.8l-13.8 13.8M734.6 245.31l13.8 13.8m0 -13.8l-13.8 13.8M747.59 289.71l13.8 13.8m0 -13.8l-13.8 13.8M760.59 321.92l13.8 13.8m0 -13.8l-13.8 13.8M773.59 323.14l13.8 13.8m0 -13.8l-13.8 13.8M786.58 304.51l13.8 13.8m0 -13.8l-13.8 13.8M799.58 284.49l13.8 13.8m0 -13.8l-13.8 13.8M812.58 283.09l13.8 13.8m0 -13.8l-13.8 13.8M825.58 291.45l13.8 13.8m0 -13.8l-13.8 13.8M838.57 293.19l13.8 13.8m0 -13.8l-13.8 13.8M851.57 275.78l13.8 13.8m0 -13.8l-13.8 13.8M864.57 254.54l13.8 13.8m0 -13.8l-13.8 13.8M877.56 250.19l13.8 13.8m0 -13.8l-13.8 13.8M890.56 267.6l13.8 13.8m0 -13.8l-13.8 13.8M903.56 300.16l13.8 13.8m0 -13.8l-13.8 13.8M916.55 321.92l13.8 13.8m0 -13.8l-13.8 13.8" stroke="#000" stroke-width="3.7" fill="none"/>
</g>
<g clip-path="url(#c20)">
<path d="M85.15 415.64L85.97 415.95L86.78 416.46L87.6 417.14L88.41 418.01L89.23 419.06L90.04 420.28L90.86 421.68L91.68 423.23L92.49 424.95L93.31 426.82L94.12 428.83L94.94 430.98L95.75 433.26L96.57 435.66L97.39 438.18L98.2 440.81L99.02 443.53L99.83 446.34L100.65 449.23L101.46 452.19L102.28 455.21L103.1 458.28L103.91 461.39L104.73 464.53L105.54 467.69L106.36 470.87L107.17 474.05L107.99 477.22L108.81 480.37L109.62 483.5L110.44 486.59L111.25 489.64L112.07 492.63L112.88 495.57L113.7 498.43L114.52 501.22L115.33 503.92L116.15 506.54L116.96 509.05L117.78 511.47L118.59 513.77L119.41 515.95L120.23 518.02L121.04 519.96L121.86 521.78L122.67 523.46L123.49 525L124.3 526.41L125.12 527.68L125.94 528.81L126.75 529.79L127.57 530.64L128.38 531.33L129.2 531.89L130.01 532.3L130.83 532.58L131.65 532.71L132.46 532.71L133.28 532.58L134.09 532.31L134.91 531.92L135.72 531.4L136.54 530.77L137.36 530.01L138.17 529.15L138.99 528.19L139.8 527.12L140.62 525.97L141.43 524.72L142.25 523.39L143.07 521.99L143.88 520.52L144.7 518.98L145.51 517.39L146.33 515.75L147.14 514.07L147.96 512.35L148.78 510.61L149.59 508.84L150.41 507.06L151.22 505.26L152.04 503.47L152.85 501.68L153.67 499.9L154.49 498.14L155.3 496.39L156.12 494.68L156.93 493L157.75 491.36L158.56 489.76L159.38 488.21L160.2 486.72L161.01 485.28L161.83 483.9L162.64 482.58L163.46 481.33L164.27 480.15L165.09 479.05L165.91 478.01L166.72 477.05L167.54 476.17L168.35 475.37L169.17 474.65L169.98 474L170.8 473.44L171.62 472.95L172.43 472.54L173.25 472.21L174.06 471.96L174.88 471.77L175.69 471.66L176.51 471.62L177.33 471.65L178.14 471.74L178.96 471.9L179.77 472.11L180.59 472.38L181.4 472.7L182.22 473.07L183.04 473.48L183.85 473.93L184.67 474.42L185.48 474.94L186.3 475.49L187.11 476.06L187.93 476.65L188.75 477.25L189.56 477.87L190.38 478.49L191.19 479.11L192.01 479.73L192.82 480.35L193.64 480.95L194.46 481.55L195.27 482.12L196.09 482.67L196.9 483.19L197.72 483.69L198.53 484.16L199.35 484.59L200.17 484.99L200.98 485.35L201.8 485.66L202.61 485.94L203.43 486.16L204.24 486.35L205.06 486.48L205.88 486.57L206.69 486.61L207.51 486.6L208.32 486.54L209.14 486.43L209.95 486.27L210.77 486.07L211.59 485.81L212.4 485.52L213.22 485.17L214.03 484.79L214.85 484.37L215.66 483.9L216.48 483.41L217.3 482.88L218.11 482.31L218.93 481.72L219.74 481.11L220.56 480.47L221.37 479.82L222.19 479.15L223.01 478.47L223.82 477.78L224.64 477.09L225.45 476.4L226.27 475.71L227.08 475.03L227.9 474.37L228.72 473.71L229.53 473.08L230.35 472.47L231.16 471.88L231.98 471.33L232.79 470.8L233.61 470.32L234.43 469.87L235.24 469.47L236.06 469.11L236.87 468.8L237.69 468.54L238.5 468.33L239.32 468.18L240.14 468.09L240.95 468.06L241.77 468.08L242.58 468.17L243.4 468.32L244.21 468.54L245.03 468.82L245.85 469.16L246.66 469.57L247.48 470.04L248.29 470.57L249.11 471.17L249.92 471.83L250.74 472.54L251.56 473.32L252.37 474.16L253.19 475.05L254 475.99L254.82 476.98L255.63 478.02L256.45 479.1L257.27 480.23L258.08 481.39L258.9 482.59L259.71 483.82L260.53 485.08L261.34 486.36L262.16 487.66L262.98 488.97L263.79 490.3L264.61 491.64L265.42 492.97L266.24 494.31L267.05 495.64L267.87 496.95L268.69 498.26L269.5 499.54L270.32 500.8L271.13 502.04L271.95 503.24L272.76 504.4L273.58 505.53L274.4 506.61L275.21 507.64L276.03 508.62L276.84 509.55L277.66 510.42L278.47 511.23L279.29 511.97L280.11 512.65" fill="none" stroke="#1f77b4" stroke-width="5.2" stroke-linejoin="round" stroke-linecap="square"/>
<path d="M78.25 413.81l13.8 13.8m0 -13.8l-13.8 13.8M91.25 438.53l13.8 13.8m0 -13.8l-13.8 13.8M104.24 482.06l13.8 13.8m0 -13.8l-13.8 13.8M117.24 519.67l13.8 13.8m0 -13.8l-13.8 13.8M130.24 521.41l13.8 13.8m0 -13.8l-13.8 13.8M143.23 502.26l13.8 13.8m0 -13.8l-13.8 13.8M156.23 470.92l13.8 13.8m0 -13.8l-13.8 13.8M169.23 458.73l13.8 13.8m0 -13.8l-13.8 13.8M182.23 466.91l13.8 13.8m0 -13.8l-13.8 13.8M195.22 479.62l13.8 13.8m0 -13.8l-13.8 13.8M208.22 478.58l13.8 13.8m0 -13.8l-13.8 13.8M221.22 469.17l13.8 13.8m0 -13.8l-13.8 13.8M234.21 459.6l13.8 13.8m0 -13.8l-13.8 13.8M247.21 463.43l13.8 13.8m0 -13.8l-13.8 13.8M260.21 488.33l13.8 13.8m0 -13.8l-13.8 13.8M273.21 505.74l13.8 13.8m0 -13.8l-13.8 13.8" stroke="#000" stroke-width="3.7" fill="none"/>
</g>
<g clip-path="url(#c21)">
<path d="M299.6 415.64L300.42 415.99L301.23 416.52L302.05 417.23L302.86 418.13L303.68 419.19L304.49 420.44L305.31 421.84L306.13 423.41L306.94 425.13L307.76 427.01L308.57 429.02L309.39 431.17L310.2 433.45L311.02 435.85L311.84 438.36L312.65 440.97L313.47 443.68L314.28 446.48L315.1 449.35L315.91 452.3L316.73 455.3L317.55 458.36L318.36 461.45L319.18 464.58L319.99 467.73L320.81 470.89L321.62 474.06L322.44 477.22L323.26 480.37L324.07 483.5L324.89 486.59L325.7 489.64L326.52 492.64L327.33 495.59L328.15 498.47L328.97 501.28L329.78 504.01L330.6 506.65L331.41 509.2L332.23 511.65L333.04 514L333.86 516.23L334.68 518.35L335.49 520.35L336.31 522.23L337.12 523.97L337.94 525.59L338.75 527.07L339.57 528.42L340.39 529.62L341.2 530.69L342.02 531.62L342.83 532.4L343.65 533.04L344.46 533.55L345.28 533.91L346.1 534.13L346.91 534.22L347.73 534.17L348.54 533.99L349.36 533.68L350.17 533.24L350.99 532.68L351.81 532L352.62 531.2L353.44 530.3L354.25 529.28L355.07 528.17L355.88 526.96L356.7 525.67L357.52 524.28L358.33 522.82L359.15 521.29L359.96 519.69L360.78 518.03L361.59 516.32L362.41 514.56L363.23 512.76L364.04 510.93L364.86 509.07L365.67 507.18L366.49 505.29L367.3 503.38L368.12 501.47L368.94 499.57L369.75 497.67L370.57 495.79L371.38 493.94L372.2 492.11L373.01 490.31L373.83 488.55L374.65 486.83L375.46 485.15L376.28 483.53L377.09 481.96L377.91 480.45L378.72 479L379.54 477.62L380.36 476.31L381.17 475.07L381.99 473.9L382.8 472.8L383.62 471.79L384.43 470.85L385.25 469.98L386.07 469.2L386.88 468.5L387.7 467.88L388.51 467.34L389.33 466.88L390.14 466.5L390.96 466.2L391.78 465.97L392.59 465.82L393.41 465.74L394.22 465.73L395.04 465.79L395.85 465.92L396.67 466.11L397.49 466.36L398.3 466.67L399.12 467.03L399.93 467.44L400.75 467.91L401.56 468.41L402.38 468.96L403.2 469.54L404.01 470.16L404.83 470.8L405.64 471.47L406.46 472.16L407.27 472.87L408.09 473.59L408.91 474.32L409.72 475.06L410.54 475.8L411.35 476.54L412.17 477.27L412.98 477.99L413.8 478.71L414.62 479.41L415.43 480.09L416.25 480.75L417.06 481.38L417.88 481.99L418.69 482.58L419.51 483.13L420.33 483.65L421.14 484.14L421.96 484.59L422.77 485L423.59 485.38L424.4 485.71L425.22 486.01L426.04 486.27L426.85 486.48L427.67 486.66L428.48 486.8L429.3 486.89L430.11 486.95L430.93 486.97L431.75 486.95L432.56 486.89L433.38 486.8L434.19 486.67L435.01 486.51L435.82 486.33L436.64 486.11L437.46 485.87L438.27 485.6L439.09 485.31L439.9 485L440.72 484.67L441.53 484.33L442.35 483.98L443.17 483.62L443.98 483.25L444.8 482.88L445.61 482.51L446.43 482.14L447.24 481.77L448.06 481.41L448.88 481.06L449.69 480.72L450.51 480.4L451.32 480.1L452.14 479.81L452.95 479.55L453.77 479.31L454.59 479.1L455.4 478.92L456.22 478.77L457.03 478.65L457.85 478.56L458.66 478.51L459.48 478.5L460.3 478.52L461.11 478.58L461.93 478.68L462.74 478.82L463.56 479L464.37 479.22L465.19 479.48L466.01 479.78L466.82 480.12L467.64 480.5L468.45 480.92L469.27 481.38L470.08 481.87L470.9 482.4L471.72 482.96L472.53 483.55L473.35 484.18L474.16 484.83L474.98 485.51L475.79 486.22L476.61 486.94L477.43 487.69L478.24 488.45L479.06 489.23L479.87 490.02L480.69 490.82L481.5 491.63L482.32 492.44L483.14 493.25L483.95 494.06L484.77 494.87L485.58 495.66L486.4 496.45L487.21 497.22L488.03 497.97L488.85 498.7L489.66 499.41L490.48 500.1L491.29 500.75L492.11 501.38L492.92 501.97L493.74 502.52L494.56 503.04" fill="none" stroke="#1f77b4" stroke-width="5.2" stroke-linejoin="round" stroke-linecap="square"/>
<path d="M292.7 413.81l13.8 13.8m0 -13.8l-13.8 13.8M305.7 434.7l13.8 13.8m0 -13.8l-13.8 13.8M318.69 482.58l13.8 13.8m0 -13.8l-13.8 13.8M331.69 518.28l13.8 13.8m0 -13.8l-13.8 13.8M344.69 527.5l13.8 13.8m0 -13.8l-13.8 13.8M357.69 506.09l13.8 13.8m0 -13.8l-13.8 13.8M370.68 475.09l13.8 13.8m0 -13.8l-13.8 13.8M383.68 455.59l13.8 13.8m0 -13.8l-13.8 13.8M396.68 463.08l13.8 13.8m0 -13.8l-13.8 13.8M409.67 473.53l13.8 13.8m0 -13.8l-13.8 13.8M422.67 478.23l13.8 13.8m0 -13.8l-13.8 13.8M435.67 472.13l13.8 13.8m0 -13.8l-13.8 13.8M448.66 473.01l13.8 13.8m0 -13.8l-13.8 13.8M461.66 473.53l13.8 13.8m0 -13.8l-13.8 13.8M474.66 484.85l13.8 13.8m0 -13.8l-13.8 13.8M487.66 498.25l13.8 13.8m0 -13.8l-13.8 13.8" stroke="#000" stroke-width="3.7" fill="none"/>
</g>
<g clip-path="url(#c22)">
<path d="M514.05 415.64L514.87 416L515.68 416.54L516.5 417.25L517.31 418.15L518.13 419.21L518.94 420.43L519.76 421.82L520.58 423.36L521.39 425.06L522.21 426.9L523.02 428.88L523.84 431L524.65 433.24L525.47 435.61L526.29 438.08L527.1 440.67L527.92 443.35L528.73 446.12L529.55 448.97L530.36 451.9L531.18 454.89L532 457.94L532.81 461.04L533.63 464.19L534.44 467.36L535.26 470.56L536.07 473.77L536.89 476.99L537.71 480.21L538.52 483.42L539.34 486.61L540.15 489.77L540.97 492.9L541.78 495.98L542.6 499.02L543.42 501.99L544.23 504.9L545.05 507.74L545.86 510.5L546.68 513.17L547.49 515.76L548.31 518.24L549.13 520.62L549.94 522.89L550.76 525.04L551.57 527.08L552.39 528.99L553.2 530.78L554.02 532.43L554.84 533.95L555.65 535.33L556.47 536.58L557.28 537.68L558.1 538.63L558.91 539.45L559.73 540.11L560.55 540.63L561.36 541L562.18 541.23L562.99 541.31L563.81 541.25L564.62 541.04L565.44 540.69L566.26 540.2L567.07 539.58L567.89 538.82L568.7 537.92L569.52 536.9L570.33 535.76L571.15 534.5L571.97 533.11L572.78 531.62L573.6 530.03L574.41 528.33L575.23 526.53L576.04 524.64L576.86 522.67L577.68 520.62L578.49 518.5L579.31 516.31L580.12 514.06L580.94 511.76L581.75 509.41L582.57 507.01L583.39 504.59L584.2 502.13L585.02 499.65L585.83 497.16L586.65 494.67L587.46 492.17L588.28 489.67L589.1 487.19L589.91 484.73L590.73 482.29L591.54 479.88L592.36 477.51L593.17 475.18L593.99 472.9L594.81 470.67L595.62 468.5L596.44 466.4L597.25 464.37L598.07 462.41L598.88 460.53L599.7 458.73L600.52 457.02L601.33 455.4L602.15 453.87L602.96 452.44L603.78 451.12L604.59 449.89L605.41 448.77L606.23 447.76L607.04 446.85L607.86 446.06L608.67 445.38L609.49 444.81L610.3 444.35L611.12 444L611.94 443.77L612.75 443.65L613.57 443.64L614.38 443.75L615.2 443.96L616.01 444.28L616.83 444.71L617.65 445.24L618.46 445.87L619.28 446.6L620.09 447.43L620.91 448.35L621.72 449.36L622.54 450.46L623.36 451.64L624.17 452.9L624.99 454.23L625.8 455.64L626.62 457.11L627.43 458.65L628.25 460.24L629.07 461.89L629.88 463.58L630.7 465.32L631.51 467.09L632.33 468.9L633.14 470.74L633.96 472.6L634.78 474.47L635.59 476.37L636.41 478.26L637.22 480.16L638.04 482.06L638.85 483.96L639.67 485.84L640.49 487.7L641.3 489.54L642.12 491.35L642.93 493.14L643.75 494.89L644.56 496.6L645.38 498.26L646.2 499.88L647.01 501.45L647.83 502.96L648.64 504.42L649.46 505.81L650.27 507.14L651.09 508.4L651.91 509.59L652.72 510.7L653.54 511.74L654.35 512.71L655.17 513.59L655.98 514.4L656.8 515.12L657.62 515.76L658.43 516.32L659.25 516.79L660.06 517.18L660.88 517.48L661.69 517.7L662.51 517.84L663.33 517.88L664.14 517.85L664.96 517.73L665.77 517.53L666.59 517.25L667.4 516.89L668.22 516.45L669.04 515.94L669.85 515.36L670.67 514.7L671.48 513.98L672.3 513.19L673.11 512.33L673.93 511.42L674.75 510.45L675.56 509.42L676.38 508.35L677.19 507.22L678.01 506.05L678.82 504.84L679.64 503.6L680.46 502.32L681.27 501.01L682.09 499.67L682.9 498.31L683.72 496.93L684.53 495.54L685.35 494.14L686.17 492.73L686.98 491.31L687.8 489.9L688.61 488.49L689.43 487.09L690.24 485.7L691.06 484.32L691.88 482.96L692.69 481.63L693.51 480.32L694.32 479.04L695.14 477.78L695.95 476.57L696.77 475.39L697.59 474.25L698.4 473.15L699.22 472.1L700.03 471.09L700.85 470.14L701.66 469.23L702.48 468.38L703.3 467.58L704.11 466.84L704.93 466.16L705.74 465.54L706.56 464.98L707.37 464.47L708.19 464.03L709 463.65" fill="none" stroke="#1f77b4" stroke-width="5.2" stroke-linejoin="round" stroke-linecap="square"/>
<path d="M507.15 412.94l13.8 13.8m0 -13.8l-13.8 13.8M520.15 433.83l13.8 13.8m0 -13.8l-13.8 13.8M533.14 483.1l13.8 13.8m0 -13.8l-13.8 13.8M546.14 522.11l13.8 13.8m0 -13.8l-13.8 13.8M559.14 533.08l13.8 13.8m0 -13.8l-13.8 13.8M572.13 510.44l13.8 13.8m0 -13.8l-13.8 13.8M585.13 474.75l13.8 13.8m0 -13.8l-13.8 13.8M598.13 436.44l13.8 13.8m0 -13.8l-13.8 13.8M611.13 436.44l13.8 13.8m0 -13.8l-13.8 13.8M624.12 457.68l13.8 13.8m0 -13.8l-13.8 13.8M637.12 485.54l13.8 13.8m0 -13.8l-13.8 13.8M650.12 509.57l13.8 13.8m0 -13.8l-13.8 13.8M663.11 509.57l13.8 13.8m0 -13.8l-13.8 13.8M676.11 493.03l13.8 13.8m0 -13.8l-13.8 13.8M689.11 469.52l13.8 13.8m0 -13.8l-13.8 13.8M702.11 459.08l13.8 13.8m0 -13.8l-13.8 13.8" stroke="#000" stroke-width="3.7" fill="none"/>
</g>
<g clip-path="url(#c23)">
<path d="M728.5 415.64L729.32 416.16L730.13 417.19L730.95 418.72L731.76 420.72L732.58 423.16L733.39 426.02L734.21 429.24L735.03 432.78L735.84 436.59L736.66 440.61L737.47 444.8L738.29 449.08L739.1 453.41L739.92 457.71L740.74 461.95L741.55 466.05L742.37 469.96L743.18 473.64L744 477.03L744.81 480.09L745.63 482.8L746.45 485.1L747.26 486.98L748.08 488.43L748.89 489.42L749.71 489.95L750.52 490.03L751.34 489.66L752.16 488.85L752.97 487.63L753.79 486.02L754.6 484.06L755.42 481.78L756.23 479.22L757.05 476.43L757.87 473.46L758.68 470.35L759.5 467.17L760.31 463.96L761.13 460.78L761.94 457.68L762.76 454.72L763.58 451.93L764.39 449.37L765.21 447.08L766.02 445.09L766.84 443.45L767.65 442.18L768.47 441.3L769.29 440.83L770.1 440.78L770.92 441.16L771.73 441.96L772.55 443.18L773.36 444.81L774.18 446.82L775 449.19L775.81 451.9L776.63 454.9L777.44 458.16L778.26 461.64L779.07 465.3L779.89 469.08L780.71 472.94L781.52 476.83L782.34 480.7L783.15 484.51L783.97 488.2L784.78 491.73L785.6 495.06L786.42 498.15L787.23 500.97L788.05 503.47L788.86 505.64L789.68 507.46L790.49 508.9L791.31 509.96L792.13 510.63L792.94 510.92L793.76 510.82L794.57 510.35L795.39 509.53L796.2 508.37L797.02 506.91L797.84 505.17L798.65 503.2L799.47 501.01L800.28 498.66L801.1 496.19L801.91 493.64L802.73 491.06L803.55 488.48L804.36 485.96L805.18 483.53L805.99 481.24L806.81 479.13L807.62 477.22L808.44 475.56L809.26 474.16L810.07 473.07L810.89 472.28L811.7 471.83L812.52 471.71L813.33 471.94L814.15 472.52L814.97 473.43L815.78 474.67L816.6 476.22L817.41 478.06L818.23 480.18L819.04 482.53L819.86 485.1L820.68 487.84L821.49 490.72L822.31 493.71L823.12 496.75L823.94 499.82L824.75 502.87L825.57 505.86L826.39 508.76L827.2 511.52L828.02 514.11L828.83 516.49L829.65 518.65L830.46 520.54L831.28 522.16L832.1 523.47L832.91 524.47L833.73 525.15L834.54 525.51L835.36 525.53L836.17 525.24L836.99 524.63L837.81 523.72L838.62 522.53L839.44 521.08L840.25 519.4L841.07 517.5L841.88 515.43L842.7 513.22L843.52 510.89L844.33 508.5L845.15 506.06L845.96 503.63L846.78 501.23L847.59 498.91L848.41 496.69L849.23 494.61L850.04 492.69L850.86 490.98L851.67 489.48L852.49 488.22L853.3 487.21L854.12 486.48L854.94 486.02L855.75 485.85L856.57 485.96L857.38 486.34L858.2 487L859.01 487.92L859.83 489.08L860.65 490.46L861.46 492.04L862.28 493.8L863.09 495.71L863.91 497.73L864.72 499.85L865.54 502.01L866.36 504.2L867.17 506.38L867.99 508.51L868.8 510.57L869.62 512.51L870.43 514.32L871.25 515.96L872.07 517.42L872.88 518.66L873.7 519.67L874.51 520.44L875.33 520.96L876.14 521.2L876.96 521.18L877.78 520.89L878.59 520.34L879.41 519.52L880.22 518.46L881.04 517.17L881.85 515.66L882.67 513.96L883.49 512.08L884.3 510.06L885.12 507.91L885.93 505.68L886.75 503.39L887.56 501.06L888.38 498.74L889.2 496.44L890.01 494.21L890.83 492.06L891.64 490.03L892.46 488.14L893.27 486.41L894.09 484.87L894.91 483.52L895.72 482.39L896.54 481.48L897.35 480.81L898.17 480.37L898.98 480.18L899.8 480.21L900.62 480.48L901.43 480.97L902.25 481.66L903.06 482.54L903.88 483.6L904.69 484.81L905.51 486.14L906.33 487.59L907.14 489.11L907.96 490.68L908.77 492.28L909.59 493.88L910.4 495.45L911.22 496.96L912.04 498.39L912.85 499.71L913.67 500.91L914.48 501.95L915.3 502.83L916.11 503.52L916.93 504.02L917.75 504.31L918.56 504.39L919.38 504.25L920.19 503.89L921.01 503.32L921.82 502.54L922.64 501.55L923.45 500.38" fill="none" stroke="#1f77b4" stroke-width="5.2" stroke-linejoin="round" stroke-linecap="square"/>
<path d="M721.6 412.94l13.8 13.8m0 -13.8l-13.8 13.8M734.6 457.33l13.8 13.8m0 -13.8l-13.8 13.8M747.59 476.49l13.8 13.8m0 -13.8l-13.8 13.8M760.59 441.14l13.8 13.8m0 -13.8l-13.8 13.8M773.59 464.3l13.8 13.8m0 -13.8l-13.8 13.8M786.58 504.35l13.8 13.8m0 -13.8l-13.8 13.8M799.58 470.05l13.8 13.8m0 -13.8l-13.8 13.8M812.58 473.01l13.8 13.8m0 -13.8l-13.8 13.8M825.58 513.92l13.8 13.8m0 -13.8l-13.8 13.8M838.57 494.77l13.8 13.8m0 -13.8l-13.8 13.8M851.57 478.75l13.8 13.8m0 -13.8l-13.8 13.8M864.57 507.83l13.8 13.8m0 -13.8l-13.8 13.8M877.56 499.99l13.8 13.8m0 -13.8l-13.8 13.8M890.56 469l13.8 13.8m0 -13.8l-13.8 13.8M903.56 486.06l13.8 13.8m0 -13.8l-13.8 13.8M916.55 493.03l13.8 13.8m0 -13.8l-13.8 13.8" stroke="#000" stroke-width="3.7" fill="none"/>
</g>
<g clip-path="url(#c30)">
<path d="M85.15 607.71L85.97 608.2L86.78 609.23L87.6 610.77L88.41 612.8L89.23 615.29L90.04 618.2L90.86 621.49L91.68 625.12L92.49 629.02L93.31 633.14L94.12 637.42L94.94 641.81L95.75 646.23L96.57 650.64L97.39 654.96L98.2 659.14L99.02 663.13L99.83 666.86L100.65 670.29L101.46 673.38L102.28 676.09L103.1 678.39L103.91 680.25L104.73 681.65L105.54 682.58L106.36 683.03L107.17 683.02L107.99 682.54L108.81 681.63L109.62 680.28L110.44 678.55L111.25 676.47L112.07 674.06L112.88 671.39L113.7 668.5L114.52 665.44L115.33 662.26L116.15 659.03L116.96 655.79L117.78 652.61L118.59 649.53L119.41 646.62L120.23 643.92L121.04 641.48L121.86 639.35L122.67 637.55L123.49 636.13L124.3 635.12L125.12 634.52L125.94 634.37L126.75 634.66L127.57 635.39L128.38 636.58L129.2 638.19L130.01 640.22L130.83 642.63L131.65 645.41L132.46 648.51L133.28 651.91L134.09 655.54L134.91 659.37L135.72 663.35L136.54 667.43L137.36 671.55L138.17 675.66L138.99 679.72L139.8 683.66L140.62 687.44L141.43 691.02L142.25 694.34L143.07 697.38L143.88 700.1L144.7 702.46L145.51 704.45L146.33 706.04L147.14 707.22L147.96 707.99L148.78 708.35L149.59 708.3L150.41 707.84L151.22 707.01L152.04 705.83L152.85 704.31L153.67 702.5L154.49 700.42L155.3 698.13L156.12 695.66L156.93 693.06L157.75 690.38L158.56 687.66L159.38 684.95L160.2 682.3L161.01 679.76L161.83 677.36L162.64 675.16L163.46 673.18L164.27 671.47L165.09 670.05L165.91 668.95L166.72 668.19L167.54 667.78L168.35 667.74L169.17 668.06L169.98 668.75L170.8 669.8L171.62 671.2L172.43 672.93L173.25 674.96L174.06 677.28L174.88 679.84L175.69 682.61L176.51 685.56L177.33 688.64L178.14 691.81L178.96 695.04L179.77 698.26L180.59 701.44L181.4 704.54L182.22 707.52L183.04 710.32L183.85 712.92L184.67 715.29L185.48 717.38L186.3 719.18L187.11 720.66L187.93 721.8L188.75 722.59L189.56 723.03L190.38 723.11L191.19 722.83L192.01 722.2L192.82 721.24L193.64 719.96L194.46 718.38L195.27 716.54L196.09 714.45L196.9 712.16L197.72 709.7L198.53 707.1L199.35 704.41L200.17 701.67L200.98 698.91L201.8 696.19L202.61 693.53L203.43 690.98L204.24 688.57L205.06 686.34L205.88 684.32L206.69 682.53L207.51 681L208.32 679.75L209.14 678.8L209.95 678.14L210.77 677.8L211.59 677.77L212.4 678.05L213.22 678.63L214.03 679.49L214.85 680.62L215.66 682L216.48 683.6L217.3 685.4L218.11 687.36L218.93 689.45L219.74 691.63L220.56 693.88L221.37 696.14L222.19 698.39L223.01 700.59L223.82 702.69L224.64 704.68L225.45 706.5L226.27 708.14L227.08 709.57L227.9 710.76L228.72 711.69L229.53 712.34L230.35 712.71L231.16 712.78L231.98 712.55L232.79 712.02L233.61 711.2L234.43 710.09L235.24 708.71L236.06 707.07L236.87 705.21L237.69 703.13L238.5 700.87L239.32 698.46L240.14 695.92L240.95 693.3L241.77 690.63L242.58 687.93L243.4 685.25L244.21 682.62L245.03 680.08L245.85 677.64L246.66 675.36L247.48 673.24L248.29 671.32L249.11 669.62L249.92 668.16L250.74 666.95L251.56 666L252.37 665.32L253.19 664.91L254 664.77L254.82 664.89L255.63 665.28L256.45 665.9L257.27 666.75L258.08 667.81L258.9 669.05L259.71 670.46L260.53 671.99L261.34 673.62L262.16 675.33L262.98 677.08L263.79 678.83L264.61 680.57L265.42 682.25L266.24 683.84L267.05 685.33L267.87 686.67L268.69 687.86L269.5 688.85L270.32 689.65L271.13 690.22L271.95 690.56L272.76 690.67L273.58 690.53L274.4 690.14L275.21 689.51L276.03 688.64L276.84 687.54L277.66 686.23L278.47 684.73L279.29 683.04L280.11 681.2" fill="none" stroke="#1f77b4" stroke-width="5.2" stroke-linejoin="round" stroke-linecap="square"/>
<path d="M78.25 607.55l13.8 13.8m0 -13.8l-13.8 13.8M91.25 649.33l13.8 13.8m0 -13.8l-13.8 13.8M104.24 666.75l13.8 13.8m0 -13.8l-13.8 13.8M117.24 629.83l13.8 13.8m0 -13.8l-13.8 13.8M130.24 663.26l13.8 13.8m0 -13.8l-13.8 13.8M143.23 703.31l13.8 13.8m0 -13.8l-13.8 13.8M156.23 666.4l13.8 13.8m0 -13.8l-13.8 13.8M169.23 677.72l13.8 13.8m0 -13.8l-13.8 13.8M182.23 718.63l13.8 13.8m0 -13.8l-13.8 13.8M195.22 687.64l13.8 13.8m0 -13.8l-13.8 13.8M208.22 676.85l13.8 13.8m0 -13.8l-13.8 13.8M221.22 706.79l13.8 13.8m0 -13.8l-13.8 13.8M234.21 686.42l13.8 13.8m0 -13.8l-13.8 13.8M247.21 655.43l13.8 13.8m0 -13.8l-13.8 13.8M260.21 678.06l13.8 13.8m0 -13.8l-13.8 13.8M273.21 669.71l13.8 13.8m0 -13.8l-13.8 13.8" stroke="#000" stroke-width="3.7" fill="none"/>
</g>
<g clip-path="url(#c31)">
<path d="M299.6 607.71L300.42 608.75L301.23 610.38L302.05 612.57L302.86 615.27L303.68 618.44L304.49 622.03L305.31 625.97L306.13 630.2L306.94 634.65L307.76 639.25L308.57 643.93L309.39 648.62L310.2 653.25L311.02 657.76L311.84 662.08L312.65 666.16L313.47 669.94L314.28 673.38L315.1 676.44L315.91 679.09L316.73 681.3L317.55 683.06L318.36 684.35L319.18 685.19L319.99 685.57L320.81 685.52L321.62 685.05L322.44 684.19L323.26 682.98L324.07 681.46L324.89 679.67L325.7 677.66L326.52 675.48L327.33 673.18L328.15 670.81L328.97 668.44L329.78 666.1L330.6 663.86L331.41 661.75L332.23 659.83L333.04 658.12L333.86 656.68L334.68 655.52L335.49 654.68L336.31 654.17L337.12 654L337.94 654.19L338.75 654.73L339.57 655.61L340.39 656.83L341.2 658.36L342.02 660.2L342.83 662.3L343.65 664.63L344.46 667.18L345.28 669.88L346.1 672.72L346.91 675.64L347.73 678.6L348.54 681.56L349.36 684.48L350.17 687.33L350.99 690.05L351.81 692.62L352.62 695L353.44 697.16L354.25 699.09L355.07 700.75L355.88 702.13L356.7 703.23L357.52 704.02L358.33 704.52L359.15 704.72L359.96 704.63L360.78 704.27L361.59 703.64L362.41 702.77L363.23 701.69L364.04 700.41L364.86 698.97L365.67 697.39L366.49 695.71L367.3 693.97L368.12 692.18L368.94 690.4L369.75 688.63L370.57 686.93L371.38 685.31L372.2 683.81L373.01 682.44L373.83 681.22L374.65 680.18L375.46 679.33L376.28 678.67L377.09 678.22L377.91 677.97L378.72 677.93L379.54 678.09L380.36 678.45L381.17 678.98L381.99 679.69L382.8 680.54L383.62 681.53L384.43 682.63L385.25 683.81L386.07 685.06L386.88 686.35L387.7 687.65L388.51 688.94L389.33 690.2L390.14 691.4L390.96 692.52L391.78 693.54L392.59 694.45L393.41 695.22L394.22 695.84L395.04 696.3L395.85 696.6L396.67 696.72L397.49 696.67L398.3 696.45L399.12 696.06L399.93 695.5L400.75 694.79L401.56 693.93L402.38 692.94L403.2 691.84L404.01 690.63L404.83 689.35L405.64 688L406.46 686.61L407.27 685.19L408.09 683.78L408.91 682.37L409.72 681.01L410.54 679.69L411.35 678.45L412.17 677.29L412.98 676.23L413.8 675.27L414.62 674.44L415.43 673.73L416.25 673.16L417.06 672.71L417.88 672.41L418.69 672.23L419.51 672.19L420.33 672.27L421.14 672.46L421.96 672.77L422.77 673.16L423.59 673.64L424.4 674.2L425.22 674.8L426.04 675.45L426.85 676.13L427.67 676.82L428.48 677.5L429.3 678.16L430.11 678.8L430.93 679.39L431.75 679.92L432.56 680.38L433.38 680.77L434.19 681.08L435.01 681.3L435.82 681.42L436.64 681.44L437.46 681.37L438.27 681.21L439.09 680.95L439.9 680.6L440.72 680.17L441.53 679.66L442.35 679.08L443.17 678.45L443.98 677.77L444.8 677.05L445.61 676.3L446.43 675.54L447.24 674.78L448.06 674.03L448.88 673.3L449.69 672.6L450.51 671.94L451.32 671.33L452.14 670.78L452.95 670.3L453.77 669.89L454.59 669.56L455.4 669.31L456.22 669.15L457.03 669.06L457.85 669.07L458.66 669.15L459.48 669.31L460.3 669.55L461.11 669.86L461.93 670.23L462.74 670.66L463.56 671.13L464.37 671.64L465.19 672.19L466.01 672.76L466.82 673.33L467.64 673.91L468.45 674.49L469.27 675.05L470.08 675.59L470.9 676.09L471.72 676.56L472.53 676.99L473.35 677.36L474.16 677.69L474.98 677.95L475.79 678.16L476.61 678.31L477.43 678.4L478.24 678.43L479.06 678.4L479.87 678.32L480.69 678.19L481.5 678.01L482.32 677.8L483.14 677.55L483.95 677.27L484.77 676.97L485.58 676.65L486.4 676.33L487.21 676L488.03 675.68L488.85 675.38L489.66 675.09L490.48 674.83L491.29 674.6L492.11 674.4L492.92 674.24L493.74 674.12L494.56 674.05" fill="none" stroke="#1f77b4" stroke-width="5.2" stroke-linejoin="round" stroke-linecap="square"/>
<path d="M292.7 607.9l13.8 13.8m0 -13.8l-13.8 13.8M305.7 658.91l13.8 13.8m0 -13.8l-13.8 13.8M318.69 665.35l13.8 13.8m0 -13.8l-13.8 13.8M331.69 641.15l13.8 13.8m0 -13.8l-13.8 13.8M344.69 686.42l13.8 13.8m0 -13.8l-13.8 13.8M357.69 694.95l13.8 13.8m0 -13.8l-13.8 13.8M370.68 669.01l13.8 13.8m0 -13.8l-13.8 13.8M383.68 689.03l13.8 13.8m0 -13.8l-13.8 13.8M396.68 684.68l13.8 13.8m0 -13.8l-13.8 13.8M409.67 662.74l13.8 13.8m0 -13.8l-13.8 13.8M422.67 668.84l13.8 13.8m0 -13.8l-13.8 13.8M435.67 671.97l13.8 13.8m0 -13.8l-13.8 13.8M448.66 671.1l13.8 13.8m0 -13.8l-13.8 13.8M461.66 667.62l13.8 13.8m0 -13.8l-13.8 13.8M474.66 671.97l13.8 13.8m0 -13.8l-13.8 13.8M487.66 686.77l13.8 13.8m0 -13.8l-13.8 13.8" stroke="#000" stroke-width="3.7" fill="none"/>
</g>
<g clip-path="url(#c32)">
<path d="M514.05 607.71L514.87 608.46L515.68 609.92L516.5 612.07L517.31 614.85L518.13 618.22L518.94 622.1L519.76 626.44L520.58 631.14L521.39 636.13L522.21 641.32L523.02 646.6L523.84 651.91L524.65 657.13L525.47 662.19L526.29 667.01L527.1 671.5L527.92 675.61L528.73 679.27L529.55 682.43L530.36 685.06L531.18 687.12L532 688.6L532.81 689.5L533.63 689.82L534.44 689.58L535.26 688.82L536.07 687.56L536.89 685.86L537.71 683.78L538.52 681.39L539.34 678.74L540.15 675.91L540.97 672.99L541.78 670.04L542.6 667.15L543.42 664.39L544.23 661.83L545.05 659.54L545.86 657.58L546.68 656.01L547.49 654.86L548.31 654.18L549.13 654L549.94 654.32L550.76 655.16L551.57 656.52L552.39 658.38L553.2 660.71L554.02 663.49L554.84 666.66L555.65 670.2L556.47 674.02L557.28 678.09L558.1 682.32L558.91 686.66L559.73 691.02L560.55 695.35L561.36 699.56L562.18 703.6L562.99 707.4L563.81 710.89L564.62 714.03L565.44 716.78L566.26 719.08L567.07 720.91L567.89 722.25L568.7 723.08L569.52 723.41L570.33 723.24L571.15 722.57L571.97 721.45L572.78 719.89L573.6 717.93L574.41 715.63L575.23 713.03L576.04 710.19L576.86 707.16L577.68 704.01L578.49 700.8L579.31 697.59L580.12 694.44L580.94 691.41L581.75 688.56L582.57 685.93L583.39 683.58L584.2 681.53L585.02 679.82L585.83 678.48L586.65 677.52L587.46 676.95L588.28 676.77L589.1 676.96L589.91 677.53L590.73 678.44L591.54 679.66L592.36 681.16L593.17 682.89L593.99 684.82L594.81 686.89L595.62 689.05L596.44 691.25L597.25 693.43L598.07 695.55L598.88 697.54L599.7 699.36L600.52 700.97L601.33 702.33L602.15 703.39L602.96 704.14L603.78 704.54L604.59 704.58L605.41 704.25L606.23 703.55L607.04 702.48L607.86 701.06L608.67 699.3L609.49 697.23L610.3 694.87L611.12 692.27L611.94 689.47L612.75 686.5L613.57 683.41L614.38 680.26L615.2 677.09L616.01 673.95L616.83 670.89L617.65 667.96L618.46 665.19L619.28 662.63L620.09 660.32L620.91 658.28L621.72 656.55L622.54 655.13L623.36 654.05L624.17 653.32L624.99 652.92L625.8 652.87L626.62 653.14L627.43 653.72L628.25 654.58L629.07 655.71L629.88 657.06L630.7 658.6L631.51 660.3L632.33 662.11L633.14 663.99L633.96 665.89L634.78 667.78L635.59 669.62L636.41 671.36L637.22 672.97L638.04 674.42L638.85 675.68L639.67 676.71L640.49 677.51L641.3 678.06L642.12 678.34L642.93 678.36L643.75 678.12L644.56 677.62L645.38 676.87L646.2 675.9L647.01 674.73L647.83 673.38L648.64 671.88L649.46 670.26L650.27 668.57L651.09 666.83L651.91 665.08L652.72 663.36L653.54 661.71L654.35 660.16L655.17 658.75L655.98 657.5L656.8 656.44L657.62 655.6L658.43 654.99L659.25 654.63L660.06 654.54L660.88 654.71L661.69 655.14L662.51 655.84L663.33 656.79L664.14 657.98L664.96 659.38L665.77 660.99L666.59 662.76L667.4 664.68L668.22 666.71L669.04 668.82L669.85 670.98L670.67 673.15L671.48 675.3L672.3 677.39L673.11 679.4L673.93 681.29L674.75 683.04L675.56 684.62L676.38 686.02L677.19 687.21L678.01 688.19L678.82 688.94L679.64 689.46L680.46 689.76L681.27 689.83L682.09 689.69L682.9 689.34L683.72 688.81L684.53 688.12L685.35 687.28L686.17 686.32L686.98 685.27L687.8 684.16L688.61 683.01L689.43 681.86L690.24 680.73L691.06 679.65L691.88 678.65L692.69 677.75L693.51 676.97L694.32 676.34L695.14 675.86L695.95 675.55L696.77 675.42L697.59 675.48L698.4 675.72L699.22 676.14L700.03 676.73L700.85 677.5L701.66 678.41L702.48 679.46L703.3 680.62L704.11 681.88L704.93 683.22L705.74 684.6L706.56 686L707.37 687.39L708.19 688.76L709 690.07" fill="none" stroke="#1f77b4" stroke-width="5.2" stroke-linejoin="round" stroke-linecap="square"/>
<path d="M507.15 608.42l13.8 13.8m0 -13.8l-13.8 13.8M520.15 653.17l13.8 13.8m0 -13.8l-13.8 13.8M533.14 667.62l13.8 13.8m0 -13.8l-13.8 13.8M546.14 659.78l13.8 13.8m0 -13.8l-13.8 13.8M559.14 700.18l13.8 13.8m0 -13.8l-13.8 13.8M572.13 682.42l13.8 13.8m0 -13.8l-13.8 13.8M585.13 673.19l13.8 13.8m0 -13.8l-13.8 13.8M598.13 704.18l13.8 13.8m0 -13.8l-13.8 13.8M611.13 665.01l13.8 13.8m0 -13.8l-13.8 13.8M624.12 645.85l13.8 13.8m0 -13.8l-13.8 13.8M637.12 669.71l13.8 13.8m0 -13.8l-13.8 13.8M650.12 652.29l13.8 13.8m0 -13.8l-13.8 13.8M663.11 668.49l13.8 13.8m0 -13.8l-13.8 13.8M676.11 691.12l13.8 13.8m0 -13.8l-13.8 13.8M689.11 669.01l13.8 13.8m0 -13.8l-13.8 13.8M702.11 691.12l13.8 13.8m0 -13.8l-13.8 13.8" stroke="#000" stroke-width="3.7" fill="none"/>
</g>
<g clip-path="url(#c33)">
<path d="M728.5 607.71L729.32 608.33L730.13 609.25L730.95 610.45L731.76 611.92L732.58 613.64L733.39 615.6L734.21 617.79L735.03 620.17L735.84 622.74L736.66 625.47L737.47 628.33L738.29 631.3L739.1 634.36L739.92 637.48L740.74 640.64L741.55 643.81L742.37 646.96L743.18 650.07L744 653.13L744.81 656.09L745.63 658.95L746.45 661.68L747.26 664.26L748.08 666.67L748.89 668.9L749.71 670.94L750.52 672.76L751.34 674.36L752.16 675.74L752.97 676.88L753.79 677.77L754.6 678.43L755.42 678.84L756.23 679.01L757.05 678.95L757.87 678.65L758.68 678.12L759.5 677.39L760.31 676.45L761.13 675.31L761.94 674.01L762.76 672.54L763.58 670.92L764.39 669.18L765.21 667.33L766.02 665.39L766.84 663.38L767.65 661.32L768.47 659.23L769.29 657.14L770.1 655.05L770.92 652.99L771.73 650.98L772.55 649.04L773.36 647.18L774.18 645.42L775 643.79L775.81 642.28L776.63 640.91L777.44 639.7L778.26 638.66L779.07 637.79L779.89 637.1L780.71 636.6L781.52 636.28L782.34 636.16L783.15 636.23L783.97 636.49L784.78 636.94L785.6 637.57L786.42 638.38L787.23 639.36L788.05 640.5L788.86 641.79L789.68 643.21L790.49 644.77L791.31 646.44L792.13 648.21L792.94 650.06L793.76 651.98L794.57 653.96L795.39 655.98L796.2 658.01L797.02 660.06L797.84 662.09L798.65 664.1L799.47 666.07L800.28 667.99L801.1 669.84L801.91 671.6L802.73 673.27L803.55 674.84L804.36 676.29L805.18 677.61L805.99 678.8L806.81 679.86L807.62 680.76L808.44 681.52L809.26 682.12L810.07 682.57L810.89 682.87L811.7 683.01L812.52 683.01L813.33 682.85L814.15 682.55L814.97 682.12L815.78 681.56L816.6 680.87L817.41 680.07L818.23 679.17L819.04 678.18L819.86 677.1L820.68 675.96L821.49 674.76L822.31 673.51L823.12 672.23L823.94 670.93L824.75 669.62L825.57 668.32L826.39 667.04L827.2 665.78L828.02 664.57L828.83 663.41L829.65 662.31L830.46 661.29L831.28 660.34L832.1 659.49L832.91 658.73L833.73 658.08L834.54 657.53L835.36 657.1L836.17 656.79L836.99 656.59L837.81 656.52L838.62 656.56L839.44 656.73L840.25 657.01L841.07 657.41L841.88 657.92L842.7 658.54L843.52 659.25L844.33 660.06L845.15 660.96L845.96 661.94L846.78 662.99L847.59 664.11L848.41 665.27L849.23 666.49L850.04 667.73L850.86 669L851.67 670.28L852.49 671.57L853.3 672.85L854.12 674.12L854.94 675.36L855.75 676.56L856.57 677.73L857.38 678.84L858.2 679.89L859.01 680.87L859.83 681.78L860.65 682.62L861.46 683.36L862.28 684.02L863.09 684.59L863.91 685.06L864.72 685.44L865.54 685.72L866.36 685.9L867.17 685.98L867.99 685.97L868.8 685.87L869.62 685.67L870.43 685.39L871.25 685.03L872.07 684.58L872.88 684.07L873.7 683.49L874.51 682.85L875.33 682.16L876.14 681.43L876.96 680.66L877.78 679.86L878.59 679.04L879.41 678.2L880.22 677.36L881.04 676.53L881.85 675.7L882.67 674.89L883.49 674.11L884.3 673.36L885.12 672.65L885.93 671.98L886.75 671.37L887.56 670.81L888.38 670.31L889.2 669.88L890.01 669.51L890.83 669.22L891.64 669L892.46 668.86L893.27 668.79L894.09 668.8L894.91 668.88L895.72 669.03L896.54 669.26L897.35 669.56L898.17 669.93L898.98 670.36L899.8 670.85L900.62 671.39L901.43 671.99L902.25 672.63L903.06 673.31L903.88 674.03L904.69 674.77L905.51 675.53L906.33 676.31L907.14 677.1L907.96 677.89L908.77 678.68L909.59 679.46L910.4 680.22L911.22 680.96L912.04 681.67L912.85 682.35L913.67 683L914.48 683.6L915.3 684.15L916.11 684.66L916.93 685.11L917.75 685.5L918.56 685.84L919.38 686.12L920.19 686.34L921.01 686.49L921.82 686.59L922.64 686.62L923.45 686.59" fill="none" stroke="#1f77b4" stroke-width="5.2" stroke-linejoin="round" stroke-linecap="square"/>
<path d="M721.6 607.55l13.8 13.8m0 -13.8l-13.8 13.8M734.6 633.32l13.8 13.8m0 -13.8l-13.8 13.8M747.59 670.75l13.8 13.8m0 -13.8l-13.8 13.8M760.59 648.46l13.8 13.8m0 -13.8l-13.8 13.8M773.59 621.48l13.8 13.8m0 -13.8l-13.8 13.8M786.58 638.02l13.8 13.8m0 -13.8l-13.8 13.8M799.58 669.36l13.8 13.8m0 -13.8l-13.8 13.8M812.58 673.71l13.8 13.8m0 -13.8l-13.8 13.8M825.58 649.33l13.8 13.8m0 -13.8l-13.8 13.8M838.57 653.34l13.8 13.8m0 -13.8l-13.8 13.8M851.57 673.71l13.8 13.8m0 -13.8l-13.8 13.8M864.57 675.1l13.8 13.8m0 -13.8l-13.8 13.8M877.56 664.13l13.8 13.8m0 -13.8l-13.8 13.8M890.56 664.48l13.8 13.8m0 -13.8l-13.8 13.8M903.56 671.97l13.8 13.8m0 -13.8l-13.8 13.8M916.55 668.14l13.8 13.8m0 -13.8l-13.8 13.8" stroke="#000" stroke-width="3.7" fill="none"/>
</g>
<path d="M75.4 31.5h-12.15M75.4 101.9h-12.15M75.4 172.3h-12.15M289.85 31.5h-12.15M289.85 101.9h-12.15M289.85 172.3h-12.15M504.3 31.5h-12.15M504.3 101.9h-12.15M504.3 172.3h-12.15M718.75 31.5h-12.15M718.75 101.9h-12.15M718.75 172.3h-12.15M75.4 223.57h-12.15M75.4 293.97h-12.15M75.4 364.37h-12.15M289.85 223.57h-12.15M289.85 293.97h-12.15M289.85 364.37h-12.15M504.3 223.57h-12.15M504.3 293.97h-12.15M504.3 364.37h-12.15M718.75 223.57h-12.15M718.75 293.97h-12.15M718.75 364.37h-12.15M75.4 415.64h-12.15M75.4 486.04h-12.15M75.4 556.44h-12.15M289.85 415.64h-12.15M289.85 486.04h-12.15M289.85 556.44h-12.15M504.3 415.64h-12.15M504.3 486.04h-12.15M504.3 556.44h-12.15M718.75 415.64h-12.15M718.75 486.04h-12.15M718.75 556.44h-12.15M75.4 607.71h-12.15M75.4 678.11h-12.15M75.4 748.51h-12.15M289.85 607.71h-12.15M289.85 678.11h-12.15M289.85 748.51h-12.15M504.3 607.71h-12.15M504.3 678.11h-12.15M504.3 748.51h-12.15M718.75 607.71h-12.15M718.75 678.11h-12.15M718.75 748.51h-12.15" stroke="#000" stroke-width="3.1" fill="none"/>
<path d="M85.15 173.2v-12.1M163.13 173.2v-12.1M241.11 173.2v-12.1M299.6 173.2v-12.1M377.58 173.2v-12.1M455.56 173.2v-12.1M514.05 173.2v-12.1M592.03 173.2v-12.1M670.01 173.2v-12.1M728.5 173.2v-12.1M806.48 173.2v-12.1M884.46 173.2v-12.1M85.15 365.27v-12.1M163.13 365.27v-12.1M241.11 365.27v-12.1M299.6 365.27v-12.1M377.58 365.27v-12.1M455.56 365.27v-12.1M514.05 365.27v-12.1M592.03 365.27v-12.1M670.01 365.27v-12.1M728.5 365.27v-12.1M806.48 365.27v-12.1M884.46 365.27v-12.1M85.15 557.34v-12.1M163.13 557.34v-12.1M241.11 557.34v-12.1M299.6 557.34v-12.1M377.58 557.34v-12.1M455.56 557.34v-12.1M514.05 557.34v-12.1M592.03 557.34v-12.1M670.01 557.34v-12.1M728.5 557.34v-12.1M806.48 557.34v-12.1M884.46 557.34v-12.1M85.15 749.41v12.1M163.13 749.41v12.1M241.11 749.41v12.1M299.6 749.41v12.1M377.58 749.41v12.1M455.56 749.41v12.1M514.05 749.41v12.1M592.03 749.41v12.1M670.01 749.41v12.1M728.5 749.41v12.1M806.48 749.41v12.1M884.46 749.41v12.1" stroke="#000" stroke-width="2.7" fill="none"/>
<g fill="none" stroke="#000" stroke-width="3.0"><rect x="75.4" y="30.5" width="214.45" height="142.7"/><rect x="289.85" y="30.5" width="214.45" height="142.7"/><rect x="504.3" y="30.5" width="214.45" height="142.7"/><rect x="718.75" y="30.5" width="214.45" height="142.7"/><rect x="75.4" y="222.57" width="214.45" height="142.7"/><rect x="289.85" y="222.57" width="214.45" height="142.7"/><rect x="504.3" y="222.57" width="214.45" height="142.7"/><rect x="718.75" y="222.57" width="214.45" height="142.7"/><rect x="75.4" y="414.64" width="214.45" height="142.7"/><rect x="289.85" y="414.64" width="214.45" height="142.7"/><rect x="504.3" y="414.64" width="214.45" height="142.7"/><rect x="718.75" y="414.64" width="214.45" height="142.7"/><rect x="75.4" y="606.71" width="214.45" height="142.7"/><rect x="289.85" y="606.71" width="214.45" height="142.7"/><rect x="504.3" y="606.71" width="214.45" height="142.7"/><rect x="718.75" y="606.71" width="214.45" height="142.7"/></g>
<g clip-path="url(#ct)">
<path d="M1128.4 327.7L1167.42 327.5L1206.44 327.3L1245.46 327.3L1284.48 327.3L1323.5 327.3L1362.52 327.3L1401.54 327.3L1440.56 327.3L1479.58 327.3L1518.6 327.3L1557.62 326.8L1596.64 326.1L1635.66 324.5L1674.68 326.1L1713.7 325.4" fill="none" stroke="#1f77b4" stroke-width="4.9" stroke-linejoin="round"/>
<circle cx="1128.4" cy="327.7" r="10.05" fill="#1f77b4" stroke="#fff" stroke-width="2.9"/>
<circle cx="1167.42" cy="327.5" r="10.05" fill="#1f77b4" stroke="#fff" stroke-width="2.9"/>
<circle cx="1206.44" cy="327.3" r="10.05" fill="#1f77b4" stroke="#fff" stroke-width="2.9"/>
<circle cx="1245.46" cy="327.3" r="10.05" fill="#1f77b4" stroke="#fff" stroke-width="2.9"/>
<circle cx="1284.48" cy="327.3" r="10.05" fill="#1f77b4" stroke="#fff" stroke-width="2.9"/>
<circle cx="1323.5" cy="327.3" r="10.05" fill="#1f77b4" stroke="#fff" stroke-width="2.9"/>
<circle cx="1362.52" cy="327.3" r="10.05" fill="#1f77b4" stroke="#fff" stroke-width="2.9"/>
<circle cx="1401.54" cy="327.3" r="10.05" fill="#1f77b4" stroke="#fff" stroke-width="2.9"/>
<circle cx="1440.56" cy="327.3" r="10.05" fill="#1f77b4" stroke="#fff" stroke-width="2.9"/>
<circle cx="1479.58" cy="327.3" r="10.05" fill="#1f77b4" stroke="#fff" stroke-width="2.9"/>
<circle cx="1518.6" cy="327.3" r="10.05" fill="#1f77b4" stroke="#fff" stroke-width="2.9"/>
<circle cx="1557.62" cy="326.8" r="10.05" fill="#1f77b4" stroke="#fff" stroke-width="2.9"/>
<circle cx="1596.64" cy="326.1" r="10.05" fill="#1f77b4" stroke="#fff" stroke-width="2.9"/>
<circle cx="1635.66" cy="324.5" r="10.05" fill="#1f77b4" stroke="#fff" stroke-width="2.9"/>
<circle cx="1674.68" cy="326.1" r="10.05" fill="#1f77b4" stroke="#fff" stroke-width="2.9"/>
<circle cx="1713.7" cy="325.4" r="10.05" fill="#1f77b4" stroke="#fff" stroke-width="2.9"/>
</g>
<g clip-path="url(#ct)">
<path d="M1128.4 56.8L1167.42 59.8L1206.44 59.1L1245.46 59.1L1284.48 59.4L1323.5 59.8L1362.52 211.3L1401.54 209.9L1440.56 215L1479.58 217.8L1518.6 230.6L1557.62 107.8L1596.64 104.3L1635.66 89.3L1674.68 73.3L1713.7 157.7" fill="none" stroke="#ff7f0e" stroke-width="4.9" stroke-linejoin="round"/>
<circle cx="1128.4" cy="56.8" r="10.05" fill="#ff7f0e" stroke="#fff" stroke-width="2.9"/>
<circle cx="1167.42" cy="59.8" r="10.05" fill="#ff7f0e" stroke="#fff" stroke-width="2.9"/>
<circle cx="1206.44" cy="59.1" r="10.05" fill="#ff7f0e" stroke="#fff" stroke-width="2.9"/>
<circle cx="1245.46" cy="59.1" r="10.05" fill="#ff7f0e" stroke="#fff" stroke-width="2.9"/>
<circle cx="1284.48" cy="59.4" r="10.05" fill="#ff7f0e" stroke="#fff" stroke-width="2.9"/>
<circle cx="1323.5" cy="59.8" r="10.05" fill="#ff7f0e" stroke="#fff" stroke-width="2.9"/>
<circle cx="1362.52" cy="211.3" r="10.05" fill="#ff7f0e" stroke="#fff" stroke-width="2.9"/>
<circle cx="1401.54" cy="209.9" r="10.05" fill="#ff7f0e" stroke="#fff" stroke-width="2.9"/>
<circle cx="1440.56" cy="215" r="10.05" fill="#ff7f0e" stroke="#fff" stroke-width="2.9"/>
<circle cx="1479.58" cy="217.8" r="10.05" fill="#ff7f0e" stroke="#fff" stroke-width="2.9"/>
<circle cx="1518.6" cy="230.6" r="10.05" fill="#ff7f0e" stroke="#fff" stroke-width="2.9"/>
<circle cx="1557.62" cy="107.8" r="10.05" fill="#ff7f0e" stroke="#fff" stroke-width="2.9"/>
<circle cx="1596.64" cy="104.3" r="10.05" fill="#ff7f0e" stroke="#fff" stroke-width="2.9"/>
<circle cx="1635.66" cy="89.3" r="10.05" fill="#ff7f0e" stroke="#fff" stroke-width="2.9"/>
<circle cx="1674.68" cy="73.3" r="10.05" fill="#ff7f0e" stroke="#fff" stroke-width="2.9"/>
<circle cx="1713.7" cy="157.7" r="10.05" fill="#ff7f0e" stroke="#fff" stroke-width="2.9"/>
</g>
<g clip-path="url(#cb)">
<path d="M1128.4 633.7L1167.42 633.7L1206.44 635.8L1245.46 633.5L1284.48 623.3L1323.5 640L1362.52 647.7L1401.54 646.7L1440.56 640L1479.58 621.4L1518.6 617L1557.62 626.8L1596.64 630L1635.66 634.2L1674.68 669L1713.7 647.7" fill="none" stroke="#2ca02c" stroke-width="4.9" stroke-linejoin="round"/>
<circle cx="1128.4" cy="633.7" r="10.05" fill="#2ca02c" stroke="#fff" stroke-width="2.9"/>
<circle cx="1167.42" cy="633.7" r="10.05" fill="#2ca02c" stroke="#fff" stroke-width="2.9"/>
<circle cx="1206.44" cy="635.8" r="10.05" fill="#2ca02c" stroke="#fff" stroke-width="2.9"/>
<circle cx="1245.46" cy="633.5" r="10.05" fill="#2ca02c" stroke="#fff" stroke-width="2.9"/>
<circle cx="1284.48" cy="623.3" r="10.05" fill="#2ca02c" stroke="#fff" stroke-width="2.9"/>
<circle cx="1323.5" cy="640" r="10.05" fill="#2ca02c" stroke="#fff" stroke-width="2.9"/>
<circle cx="1362.52" cy="647.7" r="10.05" fill="#2ca02c" stroke="#fff" stroke-width="2.9"/>
<circle cx="1401.54" cy="646.7" r="10.05" fill="#2ca02c" stroke="#fff" stroke-width="2.9"/>
<circle cx="1440.56" cy="640" r="10.05" fill="#2ca02c" stroke="#fff" stroke-width="2.9"/>
<circle cx="1479.58" cy="621.4" r="10.05" fill="#2ca02c" stroke="#fff" stroke-width="2.9"/>
<circle cx="1518.6" cy="617" r="10.05" fill="#2ca02c" stroke="#fff" stroke-width="2.9"/>
<circle cx="1557.62" cy="626.8" r="10.05" fill="#2ca02c" stroke="#fff" stroke-width="2.9"/>
<circle cx="1596.64" cy="630" r="10.05" fill="#2ca02c" stroke="#fff" stroke-width="2.9"/>
<circle cx="1635.66" cy="634.2" r="10.05" fill="#2ca02c" stroke="#fff" stroke-width="2.9"/>
<circle cx="1674.68" cy="669" r="10.05" fill="#2ca02c" stroke="#fff" stroke-width="2.9"/>
<circle cx="1713.7" cy="647.7" r="10.05" fill="#2ca02c" stroke="#fff" stroke-width="2.9"/>
</g>
<g clip-path="url(#cb)">
<path d="M1128.4 510.3L1167.42 679.9L1206.44 687.1L1245.46 683.4L1284.48 682.9L1323.5 466.9L1362.52 680.1L1401.54 685.2L1440.56 683.4L1479.58 664.3L1518.6 655.8L1557.62 648.8L1596.64 677.1L1635.66 413.4L1674.68 573.4L1713.7 542.8" fill="none" stroke="#d62728" stroke-width="4.9" stroke-linejoin="round"/>
<circle cx="1128.4" cy="510.3" r="10.05" fill="#d62728" stroke="#fff" stroke-width="2.9"/>
<circle cx="1167.42" cy="679.9" r="10.05" fill="#d62728" stroke="#fff" stroke-width="2.9"/>
<circle cx="1206.44" cy="687.1" r="10.05" fill="#d62728" stroke="#fff" stroke-width="2.9"/>
<circle cx="1245.46" cy="683.4" r="10.05" fill="#d62728" stroke="#fff" stroke-width="2.9"/>
<circle cx="1284.48" cy="682.9" r="10.05" fill="#d62728" stroke="#fff" stroke-width="2.9"/>
<circle cx="1323.5" cy="466.9" r="10.05" fill="#d62728" stroke="#fff" stroke-width="2.9"/>
<circle cx="1362.52" cy="680.1" r="10.05" fill="#d62728" stroke="#fff" stroke-width="2.9"/>
<circle cx="1401.54" cy="685.2" r="10.05" fill="#d62728" stroke="#fff" stroke-width="2.9"/>
<circle cx="1440.56" cy="683.4" r="10.05" fill="#d62728" stroke="#fff" stroke-width="2.9"/>
<circle cx="1479.58" cy="664.3" r="10.05" fill="#d62728" stroke="#fff" stroke-width="2.9"/>
<circle cx="1518.6" cy="655.8" r="10.05" fill="#d62728" stroke="#fff" stroke-width="2.9"/>
<circle cx="1557.62" cy="648.8" r="10.05" fill="#d62728" stroke="#fff" stroke-width="2.9"/>
<circle cx="1596.64" cy="677.1" r="10.05" fill="#d62728" stroke="#fff" stroke-width="2.9"/>
<circle cx="1635.66" cy="413.4" r="10.05" fill="#d62728" stroke="#fff" stroke-width="2.9"/>
<circle cx="1674.68" cy="573.4" r="10.05" fill="#d62728" stroke="#fff" stroke-width="2.9"/>
<circle cx="1713.7" cy="542.8" r="10.05" fill="#d62728" stroke="#fff" stroke-width="2.9"/>
</g>
<path d="M1128.4 71.4h-12.15M1128.4 153.1h-12.15M1128.4 234.75h-12.15M1128.4 316.4h-12.15M1128.4 748.6h-12.15M1128.4 684.55h-12.15M1128.4 620.5h-12.15M1128.4 556.45h-12.15M1128.4 492.4h-12.15M1128.4 428.35h-12.15" stroke="#000" stroke-width="3.1" fill="none"/>
<path d="M1206.44 749.4v12.1M1362.52 749.4v12.1M1518.6 749.4v12.1M1674.68 749.4v12.1" stroke="#000" stroke-width="2.7" fill="none"/>
<g fill="none" stroke="#000" stroke-width="3.0"><rect x="1128.4" y="30.5" width="585.3" height="359.3"/><rect x="1128.4" y="389.8" width="585.3" height="359.6"/></g>
<rect x="1141.9" y="151.9" width="140" height="84.9" rx="5.5" ry="5.5" fill="#fff" fill-opacity="0.8" stroke="#d3d3d3" stroke-width="3.1"/>
<path d="M1150.2 172.9H1210.5" stroke="#1f77b4" stroke-width="4.9"/>
<circle cx="1180.35" cy="172.9" r="10.05" fill="#1f77b4" stroke="#fff" stroke-width="2.9"/>
<path d="M1150.2 210.8H1210.5" stroke="#ff7f0e" stroke-width="4.9"/>
<circle cx="1180.35" cy="210.8" r="10.05" fill="#ff7f0e" stroke="#fff" stroke-width="2.9"/>
<rect x="1376.1" y="425.2" width="156" height="84.3" rx="5.5" ry="5.5" fill="#fff" fill-opacity="0.8" stroke="#d3d3d3" stroke-width="3.1"/>
<path d="M1384.4 445.8H1444.7" stroke="#2ca02c" stroke-width="4.9"/>
<circle cx="1414.55" cy="445.8" r="10.05" fill="#2ca02c" stroke="#fff" stroke-width="2.9"/>
<path d="M1384.4 483.8H1444.7" stroke="#d62728" stroke-width="4.9"/>
<circle cx="1414.55" cy="483.8" r="10.05" fill="#d62728" stroke="#fff" stroke-width="2.9"/>
<text transform="translate(126.39 24) scale(1.0458 1.0200)" font-size="30">07:52:41</text>
<text transform="translate(340.85 24) scale(1.0383 1.0200)" font-size="30">07:54:37</text>
<text transform="translate(555.31 24) scale(1.0333 1.0200)" font-size="30">07:56:34</text>
<text transform="translate(769.75 24) scale(1.0408 1.0200)" font-size="30">07:58:38</text>
<text transform="translate(37.21 41.4) scale(0.9949 0.9892)" font-size="28">1</text>
<text transform="translate(37.17 111.9) scale(1.0333 1.0187)" font-size="28">0</text>
<text transform="translate(126.41 216.07) scale(1.0333 1.0200)" font-size="30">08:00:34</text>
<text transform="translate(340.84 216.07) scale(1.0458 1.0200)" font-size="30">08:02:31</text>
<text transform="translate(555.3 216.07) scale(1.0383 1.0200)" font-size="30">08:04:27</text>
<text transform="translate(769.75 216.07) scale(1.0408 1.0200)" font-size="30">08:06:23</text>
<text transform="translate(37.21 233.47) scale(0.9949 0.9892)" font-size="28">1</text>
<text transform="translate(37.17 303.97) scale(1.0333 1.0187)" font-size="28">0</text>
<text transform="translate(126.4 408.14) scale(1.0408 1.0200)" font-size="30">08:08:19</text>
<text transform="translate(340.86 408.14) scale(1.0333 1.0200)" font-size="30">08:10:24</text>
<text transform="translate(555.3 408.14) scale(1.0408 1.0200)" font-size="30">08:12:20</text>
<text transform="translate(769.75 408.14) scale(1.0408 1.0200)" font-size="30">08:14:15</text>
<text transform="translate(37.21 425.54) scale(0.9949 0.9892)" font-size="28">1</text>
<text transform="translate(37.17 496.04) scale(1.0333 1.0187)" font-size="28">0</text>
<text transform="translate(126.38 600.21) scale(1.0585 1.0200)" font-size="30">08:16:11</text>
<text transform="translate(340.85 600.21) scale(1.0383 1.0200)" font-size="30">08:18:07</text>
<text transform="translate(555.3 600.21) scale(1.0408 1.0200)" font-size="30">08:20:03</text>
<text transform="translate(769.75 600.21) scale(1.0408 1.0200)" font-size="30">08:21:58</text>
<text transform="translate(37.21 617.61) scale(0.9949 0.9892)" font-size="28">1</text>
<text transform="translate(37.17 688.11) scale(1.0333 1.0187)" font-size="28">0</text>
<text transform="translate(77.95 792.9) scale(1.0500 1.0187)" font-size="28">0</text>
<text transform="translate(148.37 792.9) scale(1.0602 1.0187)" font-size="28">60</text>
<text transform="translate(219 792.9) scale(1.0416 1.0187)" font-size="28">120</text>
<text transform="translate(172.58 815.92) scale(1.1458 0.8788)" font-size="36" font-style="italic" stroke="#fff" stroke-width="0.45">n</text>
<text transform="translate(292.4 792.9) scale(1.0500 1.0187)" font-size="28">0</text>
<text transform="translate(362.82 792.9) scale(1.0602 1.0187)" font-size="28">60</text>
<text transform="translate(433.45 792.9) scale(1.0416 1.0187)" font-size="28">120</text>
<text transform="translate(387.03 815.92) scale(1.1458 0.8788)" font-size="36" font-style="italic" stroke="#fff" stroke-width="0.45">n</text>
<text transform="translate(506.85 792.9) scale(1.0500 1.0187)" font-size="28">0</text>
<text transform="translate(577.27 792.9) scale(1.0602 1.0187)" font-size="28">60</text>
<text transform="translate(647.9 792.9) scale(1.0416 1.0187)" font-size="28">120</text>
<text transform="translate(601.48 815.92) scale(1.1458 0.8788)" font-size="36" font-style="italic" stroke="#fff" stroke-width="0.45">n</text>
<text transform="translate(721.3 792.9) scale(1.0500 1.0187)" font-size="28">0</text>
<text transform="translate(791.72 792.9) scale(1.0602 1.0187)" font-size="28">60</text>
<text transform="translate(862.35 792.9) scale(1.0416 1.0187)" font-size="28">120</text>
<text transform="translate(815.93 815.92) scale(1.1458 0.8788)" font-size="36" font-style="italic" stroke="#fff" stroke-width="0.45">n</text>
<text transform="translate(1075.4 81.3) scale(1.0408 1.0187)" font-size="28">20</text>
<text transform="translate(1075.29 163) scale(1.0449 1.0187)" font-size="28">10</text>
<text transform="translate(1089.63 244.65) scale(1.0667 1.0187)" font-size="28">0</text>
<text transform="translate(1023.65 758.5) scale(1.0493 1.0187)" font-size="28">0.0000</text>
<text transform="translate(1023.65 694.45) scale(1.0493 1.0187)" font-size="28">0.0025</text>
<text transform="translate(1023.65 630.4) scale(1.0493 1.0187)" font-size="28">0.0050</text>
<text transform="translate(1023.65 566.35) scale(1.0493 1.0187)" font-size="28">0.0075</text>
<text transform="translate(1023.65 502.3) scale(1.0493 1.0187)" font-size="28">0.0100</text>
<text transform="translate(1023.65 438.25) scale(1.0493 1.0187)" font-size="28">0.0125</text>
<text transform="translate(1154.71 792.9) scale(1.0321 1.0187)" font-size="28">07:56:34</text>
<text transform="translate(1310.78 792.9) scale(1.0373 1.0187)" font-size="28">08:04:27</text>
<text transform="translate(1466.86 792.9) scale(1.0400 1.0187)" font-size="28">08:12:20</text>
<text transform="translate(1622.94 792.9) scale(1.0400 1.0187)" font-size="28">08:20:03</text>
<text transform="translate(1285.95 831.3) scale(1.0976 1.0000)" font-size="30">Time on 18-05-2022</text>
<g transform="translate(1011.7 210.65) rotate(-90)"><text transform="translate(-69.67 0) scale(1.0950 1.0532)" font-size="30">Frequency</text></g>
<g transform="translate(983.0 568.8) rotate(-90)"><text transform="translate(-106.43 0) scale(1.1679 1.0265)" font-size="30">Relaxation rate</text></g>
<text transform="translate(1229.59 182.5) scale(0.9500 1.0000)" font-size="29" font-style="italic">δω</text>
<text transform="translate(1230.13 220.3) scale(1.1347 1.0000)" font-size="29" font-style="italic">ν</text>
<text transform="translate(1246.22 224.3) scale(1.2833 1.0000)" font-size="21.5" font-style="italic">zx</text>
<text transform="translate(1464.5 455.6) scale(1.0621 1.0000)" font-size="28">Γ</text>
<text transform="translate(1485.05 460.1) scale(1.2373 1.0000)" font-size="21.5" font-style="italic">AD</text>
<text transform="translate(1464.5 493.8) scale(1.0621 1.0000)" font-size="28">Γ</text>
<text transform="translate(1483.78 498.2) scale(1.1355 1.0000)" font-size="21.5" font-style="italic">D</text>
<text><tspan x="14.99" y="186.4" font-size="36.22" stroke="#fff" stroke-width="0.3">−</tspan><tspan x="37.32" y="182.4" font-size="27.42" >1</tspan></text>
<g transform="translate(24.4 101.6) rotate(-90)"><text><tspan x="-29.5" y="3.3" font-size="34" font-family="'DejaVu Sans', sans-serif" stroke="#fff" stroke-width="0.9">⟨</tspan><tspan x="-16.86" y="0" font-size="32" font-style="italic">σ</tspan><tspan x="-13.19" y="0" font-size="32.96" >ˆ</tspan><tspan x="2.28" y="3.6" font-size="25.58" font-style="italic">x</tspan><tspan x="15.4" y="3.3" font-size="34" font-family="'DejaVu Sans', sans-serif" stroke="#fff" stroke-width="0.9">⟩</tspan></text></g>
<text><tspan x="14.99" y="378.47" font-size="36.22" stroke="#fff" stroke-width="0.3">−</tspan><tspan x="37.32" y="374.47" font-size="27.42" >1</tspan></text>
<g transform="translate(24.4 293.67) rotate(-90)"><text><tspan x="-29.5" y="3.3" font-size="34" font-family="'DejaVu Sans', sans-serif" stroke="#fff" stroke-width="0.9">⟨</tspan><tspan x="-16.86" y="0" font-size="32" font-style="italic">σ</tspan><tspan x="-13.19" y="0" font-size="32.96" >ˆ</tspan><tspan x="2.28" y="3.6" font-size="25.58" font-style="italic">x</tspan><tspan x="15.4" y="3.3" font-size="34" font-family="'DejaVu Sans', sans-serif" stroke="#fff" stroke-width="0.9">⟩</tspan></text></g>
<text><tspan x="14.99" y="570.54" font-size="36.22" stroke="#fff" stroke-width="0.3">−</tspan><tspan x="37.32" y="566.54" font-size="27.42" >1</tspan></text>
<g transform="translate(24.4 485.74) rotate(-90)"><text><tspan x="-29.5" y="3.3" font-size="34" font-family="'DejaVu Sans', sans-serif" stroke="#fff" stroke-width="0.9">⟨</tspan><tspan x="-16.86" y="0" font-size="32" font-style="italic">σ</tspan><tspan x="-13.19" y="0" font-size="32.96" >ˆ</tspan><tspan x="2.28" y="3.6" font-size="25.58" font-style="italic">x</tspan><tspan x="15.4" y="3.3" font-size="34" font-family="'DejaVu Sans', sans-serif" stroke="#fff" stroke-width="0.9">⟩</tspan></text></g>
<text><tspan x="14.99" y="762.61" font-size="36.22" stroke="#fff" stroke-width="0.3">−</tspan><tspan x="37.32" y="758.61" font-size="27.42" >1</tspan></text>
<g transform="translate(24.4 677.81) rotate(-90)"><text><tspan x="-29.5" y="3.3" font-size="34" font-family="'DejaVu Sans', sans-serif" stroke="#fff" stroke-width="0.9">⟨</tspan><tspan x="-16.86" y="0" font-size="32" font-style="italic">σ</tspan><tspan x="-13.19" y="0" font-size="32.96" >ˆ</tspan><tspan x="2.28" y="3.6" font-size="25.58" font-style="italic">x</tspan><tspan x="15.4" y="3.3" font-size="34" font-family="'DejaVu Sans', sans-serif" stroke="#fff" stroke-width="0.9">⟩</tspan></text></g>
<text><tspan x="-1.55" y="24.4" font-size="35.5" stroke="#fff" stroke-width="0.5">(</tspan><tspan x="8.88" y="23.6" font-size="37.71" >a</tspan><tspan x="25.1" y="24.4" font-size="35.5" stroke="#fff" stroke-width="0.5">)</tspan></text>
<text><tspan x="1002.75" y="24.4" font-size="35.5" stroke="#fff" stroke-width="0.5">(</tspan><tspan x="1016" y="23.6" font-size="31.98" >b</tspan><tspan x="1031.6" y="24.4" font-size="35.5" stroke="#fff" stroke-width="0.5">)</tspan></text>
<text><tspan x="1052.99" y="330.3" font-size="37.96" stroke="#fff" stroke-width="0.3">−</tspan><tspan x="1075.34" y="326.3" font-size="29.18" >10</tspan></text>
<g transform="translate(1045.0 209.7) rotate(-90)"><text><tspan x="-38.25" y="1" font-size="35.5" stroke="#fff" stroke-width="0.5">(</tspan><tspan x="-27.31" y="0" font-size="31.83" >kHz</tspan><tspan x="25.9" y="1" font-size="35.5" stroke="#fff" stroke-width="0.5">)</tspan></text></g>
<g transform="translate(1019.4 570.2) rotate(-90)"><text><tspan x="-45.05" y="0.6" font-size="35.5" stroke="#fff" stroke-width="0.5">(</tspan><tspan x="-31" y="0" font-size="34.6" font-style="italic">μs</tspan><tspan x="1.72" y="-8.4" font-size="32.22" stroke="#fff" stroke-width="0.5">−</tspan><tspan x="20.34" y="-13.1" font-size="22.9" >1</tspan><tspan x="32.5" y="0.6" font-size="35.5" stroke="#fff" stroke-width="0.5">)</tspan></text></g>
</svg>
</body></html>
